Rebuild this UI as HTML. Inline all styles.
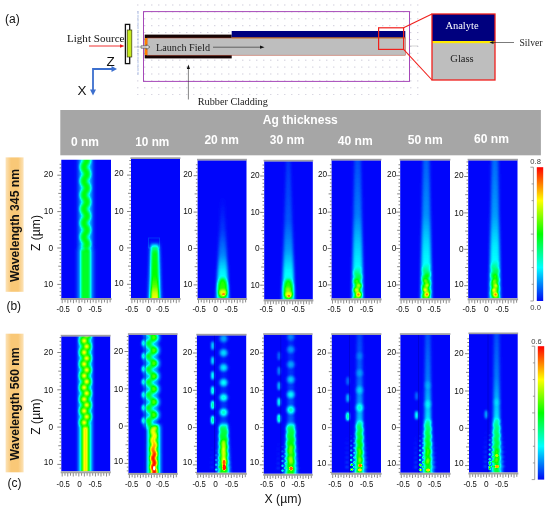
<!DOCTYPE html>
<html lang="en"><head><meta charset="utf-8"><title>Figure</title>
<style>
html,body{margin:0;padding:0;background:#fff;}
body{width:550px;height:510px;overflow:hidden;font-family:"Liberation Sans",Arial,sans-serif;}
svg{display:block;}
</style></head><body>
<svg width="550" height="510" viewBox="0 0 550 510">
<defs>
<filter id="jet" filterUnits="userSpaceOnUse" x="0" y="0" width="550" height="510" color-interpolation-filters="sRGB">
<feComponentTransfer>
<feFuncR type="table" tableValues="0 0 0 1 1"/>
<feFuncG type="table" tableValues="0.02 1 1 1 0"/>
<feFuncB type="table" tableValues="0.985 1 0 0 0"/>
</feComponentTransfer>
</filter>
<filter id="b05" filterUnits="userSpaceOnUse" x="0" y="0" width="550" height="510" color-interpolation-filters="sRGB"><feGaussianBlur stdDeviation="0.5"/></filter>
<filter id="b08" filterUnits="userSpaceOnUse" x="0" y="0" width="550" height="510" color-interpolation-filters="sRGB"><feGaussianBlur stdDeviation="0.8"/></filter>
<filter id="b1" filterUnits="userSpaceOnUse" x="0" y="0" width="550" height="510" color-interpolation-filters="sRGB"><feGaussianBlur stdDeviation="1.0"/></filter>
<filter id="b15" filterUnits="userSpaceOnUse" x="0" y="0" width="550" height="510" color-interpolation-filters="sRGB"><feGaussianBlur stdDeviation="1.5"/></filter>
<filter id="b2" filterUnits="userSpaceOnUse" x="0" y="0" width="550" height="510" color-interpolation-filters="sRGB"><feGaussianBlur stdDeviation="2.0"/></filter>
<filter id="b3" filterUnits="userSpaceOnUse" x="0" y="0" width="550" height="510" color-interpolation-filters="sRGB"><feGaussianBlur stdDeviation="3.0"/></filter>
<linearGradient id="cbar" x1="0" y1="0" x2="0" y2="1">
<stop offset="0" stop-color="#ff0000"/><stop offset="0.25" stop-color="#ffff00"/><stop offset="0.5" stop-color="#00ff00"/><stop offset="0.75" stop-color="#00ffff"/><stop offset="1" stop-color="#0008f5"/>
</linearGradient>
<linearGradient id="org" x1="0" y1="0" x2="1" y2="0">
<stop offset="0" stop-color="#fce3b8"/><stop offset="0.3" stop-color="#f9c877"/><stop offset="0.7" stop-color="#f9c877"/><stop offset="1" stop-color="#fce3b8"/>
</linearGradient>
<pattern id="dots" x="137.3" y="4.5" width="7" height="6.9" patternUnits="userSpaceOnUse">
<rect x="0" y="0" width="1" height="1" fill="#bcb8cc"/>
</pattern>
</defs>
<rect x="0" y="0" width="550" height="510" fill="#ffffff"/>
<g id="schematic">
<rect x="137" y="4" width="284" height="91" fill="url(#dots)"/>
<text x="5" y="23" font-size="12" font-family="Liberation Sans, Arial, sans-serif" fill="#111">(a)</text>
<line x1="138" y1="11" x2="138" y2="75" stroke="#8fa8dc" stroke-width="0.7" stroke-dasharray="3 0.8"/>
<rect x="125.4" y="24.4" width="4.3" height="39.2" fill="#fff" stroke="#111" stroke-width="1.3"/>
<rect x="127.2" y="30" width="4.6" height="27" fill="#c6ea1e" stroke="#3a3a10" stroke-width="0.7"/>
<line x1="89" y1="46" x2="121" y2="46" stroke="#ee1c1c" stroke-width="0.9"/>
<path d="M124.5 46 L120 44.3 L120 47.7 Z" fill="#ee1c1c"/>
<text x="67" y="41.7" font-size="11" font-family="Liberation Serif, Times New Roman, serif" fill="#111" textLength="57.5" lengthAdjust="spacingAndGlyphs">Light Source</text>
<path d="M93 92 L93 69 L113 69" fill="none" stroke="#3c6fce" stroke-width="1.8"/>
<path d="M117 69 L111.5 66 L111.5 72 Z" fill="#3c6fce"/>
<path d="M93 95.5 L90 89.5 L96 89.5 Z" fill="#3c6fce"/>
<text x="106.6" y="66.2" font-size="13.5" font-family="Liberation Sans, Arial, sans-serif" fill="#111">Z</text>
<text x="77.6" y="95.2" font-size="13.5" font-family="Liberation Sans, Arial, sans-serif" fill="#111">X</text>
<rect x="143.5" y="11.6" width="266" height="69.8" fill="none" stroke="#a648b8" stroke-width="1"/>
<rect x="144.7" y="34.6" width="87" height="23.8" fill="#160404"/>
<rect x="231.7" y="31" width="173.6" height="7" fill="#00007e"/>
<rect x="147" y="38" width="258.3" height="17.2" fill="#bebebe" stroke="#b5452f" stroke-width="0.5"/>
<rect x="231.7" y="37.4" width="173.6" height="0.9" fill="#e0861e"/>
<rect x="144.9" y="38" width="2.4" height="17.2" fill="#ff7f00"/>
<line x1="134" y1="47" x2="143" y2="47" stroke="#999" stroke-width="0.5"/>
<path d="M141 45.8 L146.5 45.8 L146.5 44.6 L150 47 L146.5 49.4 L146.5 48.2 L141 48.2 Z" fill="#ddd" stroke="#444" stroke-width="0.6"/>
<text x="156" y="50.6" font-size="11" font-family="Liberation Serif, Times New Roman, serif" fill="#1a1a1a" textLength="54" lengthAdjust="spacingAndGlyphs">Launch Field</text>
<line x1="213" y1="47.2" x2="261" y2="47.2" stroke="#222" stroke-width="0.6"/>
<path d="M264.5 47.2 L260 45.6 L260 48.8 Z" fill="#111"/>
<line x1="188.4" y1="68" x2="188.4" y2="99.5" stroke="#333" stroke-width="0.6"/>
<path d="M188.4 64.5 L186.8 69 L190 69 Z" fill="#111"/>
<text x="197.8" y="105.3" font-size="11" font-family="Liberation Serif, Times New Roman, serif" fill="#1a1a1a" textLength="70" lengthAdjust="spacingAndGlyphs">Rubber Cladding</text>
<rect x="378.6" y="27.8" width="25" height="21.6" fill="none" stroke="#f0201c" stroke-width="1.2"/>
<line x1="403.6" y1="27.8" x2="432" y2="14" stroke="#f0201c" stroke-width="1.1"/>
<line x1="403.6" y1="49.4" x2="432" y2="80" stroke="#f0201c" stroke-width="1.1"/>
<line x1="409.6" y1="46" x2="418" y2="46" stroke="#aaa" stroke-width="0.5"/>
<rect x="432" y="14" width="63" height="27.5" fill="#00007e"/>
<rect x="432" y="43" width="63" height="37" fill="#bebebe"/>
<rect x="432" y="41" width="63" height="2.2" fill="#ffea00"/>
<rect x="432" y="14" width="63" height="66" fill="none" stroke="#f0201c" stroke-width="1.3"/>
<text x="462" y="29" font-size="10.5" font-family="Liberation Serif, Times New Roman, serif" fill="#fff" text-anchor="middle">Analyte</text>
<text x="462" y="62" font-size="10.5" font-family="Liberation Serif, Times New Roman, serif" fill="#1a1a1a" text-anchor="middle">Glass</text>
<line x1="492" y1="42.5" x2="514" y2="42.5" stroke="#222" stroke-width="0.6"/>
<path d="M489.5 42.5 L493.5 41 L493.5 44 Z" fill="#111"/>
<text x="519.5" y="46" font-size="10.5" font-family="Liberation Serif, Times New Roman, serif" fill="#1a1a1a" textLength="23" lengthAdjust="spacingAndGlyphs">Silver</text>
</g>
<rect x="60.3" y="110" width="480.6" height="45.3" fill="#a6a6a6"/>
<text x="262.8" y="123.6" font-size="12" font-weight="bold" font-family="Liberation Sans, Arial, sans-serif" fill="#fff" textLength="75" lengthAdjust="spacingAndGlyphs">Ag thickness</text>
<text x="71" y="145.8" font-size="12" font-weight="bold" font-family="Liberation Sans, Arial, sans-serif" fill="#fff" textLength="28" lengthAdjust="spacingAndGlyphs">0 nm</text>
<text x="135.3" y="146" font-size="12" font-weight="bold" font-family="Liberation Sans, Arial, sans-serif" fill="#fff" textLength="34" lengthAdjust="spacingAndGlyphs">10 nm</text>
<text x="204.4" y="144.3" font-size="12" font-weight="bold" font-family="Liberation Sans, Arial, sans-serif" fill="#fff" textLength="34.6" lengthAdjust="spacingAndGlyphs">20 nm</text>
<text x="269.8" y="144.3" font-size="12" font-weight="bold" font-family="Liberation Sans, Arial, sans-serif" fill="#fff" textLength="34.6" lengthAdjust="spacingAndGlyphs">30 nm</text>
<text x="337.7" y="145.2" font-size="12" font-weight="bold" font-family="Liberation Sans, Arial, sans-serif" fill="#fff" textLength="35" lengthAdjust="spacingAndGlyphs">40 nm</text>
<text x="407.7" y="144.2" font-size="12" font-weight="bold" font-family="Liberation Sans, Arial, sans-serif" fill="#fff" textLength="35" lengthAdjust="spacingAndGlyphs">50 nm</text>
<text x="474" y="142.9" font-size="12" font-weight="bold" font-family="Liberation Sans, Arial, sans-serif" fill="#fff" textLength="35" lengthAdjust="spacingAndGlyphs">60 nm</text>
<rect x="5.6" y="157.4" width="18" height="134.4" fill="url(#org)"/>
<rect x="5.6" y="333.7" width="18" height="138.6" fill="url(#org)"/>
<text transform="translate(19 282) rotate(-90)" font-size="12" font-weight="bold" font-family="Liberation Sans, Arial, sans-serif" fill="#111" textLength="113" lengthAdjust="spacingAndGlyphs">Wavelength 345 nm</text>
<text transform="translate(19 460.4) rotate(-90)" font-size="12" font-weight="bold" font-family="Liberation Sans, Arial, sans-serif" fill="#111" textLength="113" lengthAdjust="spacingAndGlyphs">Wavelength 560 nm</text>
<text transform="translate(39.5 251) rotate(-90)" font-size="12" font-family="Liberation Sans, Arial, sans-serif" fill="#111" textLength="36" lengthAdjust="spacingAndGlyphs">Z (µm)</text>
<text transform="translate(39.5 434.8) rotate(-90)" font-size="12" font-family="Liberation Sans, Arial, sans-serif" fill="#111" textLength="36.4" lengthAdjust="spacingAndGlyphs">Z (µm)</text>
<text x="6.4" y="310" font-size="12" font-family="Liberation Sans, Arial, sans-serif" fill="#111">(b)</text>
<text x="7.6" y="487" font-size="12" font-family="Liberation Sans, Arial, sans-serif" fill="#111">(c)</text>
<text x="264.5" y="502.7" font-size="12" font-family="Liberation Sans, Arial, sans-serif" fill="#111" textLength="37" lengthAdjust="spacingAndGlyphs">X (µm)</text>
<clipPath id="ca0"><rect x="61.3" y="159.7" width="49.70" height="138.30"/></clipPath>
<g clip-path="url(#ca0)"><g filter="url(#jet)">
<rect x="55.3" y="153.7" width="61.70" height="150.30" fill="#000"/>
<rect x="79.20" y="155.00" width="12.80" height="92.50" fill="#fff" fill-opacity="0.21" filter="url(#b2)"/>
<rect x="78.40" y="247.50" width="14.40" height="54.50" fill="#fff" fill-opacity="0.2" filter="url(#b2)"/>
<polyline points="84.22,155.00 84.98,156.00 85.82,157.00 86.58,158.00 87.11,159.00 87.30,160.00 87.11,161.00 86.58,162.00 85.82,163.00 84.98,164.00 84.22,165.00 83.69,166.00 83.50,167.00 83.69,168.00 84.22,169.00 84.98,170.00 85.82,171.00 86.58,172.00 87.11,173.00 87.30,174.00 87.11,175.00 86.58,176.00 85.82,177.00 84.98,178.00 84.22,179.00 83.69,180.00 83.50,181.00 83.69,182.00 84.22,183.00 84.98,184.00 85.82,185.00 86.58,186.00 87.11,187.00 87.30,188.00 87.11,189.00 86.58,190.00 85.82,191.00 84.98,192.00 84.22,193.00 83.69,194.00 83.50,195.00 83.69,196.00 84.22,197.00 84.98,198.00 85.82,199.00 86.58,200.00 87.11,201.00 87.30,202.00 87.11,203.00 86.58,204.00 85.82,205.00 84.98,206.00 84.22,207.00 83.69,208.00 83.50,209.00 83.69,210.00 84.22,211.00 84.98,212.00 85.82,213.00 86.58,214.00 87.11,215.00 87.30,216.00 87.11,217.00 86.58,218.00 85.82,219.00 84.98,220.00 84.22,221.00 83.69,222.00 83.50,223.00 83.69,224.00 84.22,225.00 84.98,226.00 85.82,227.00 86.58,228.00 87.11,229.00 87.30,230.00 87.11,231.00 86.58,232.00 85.82,233.00 84.98,234.00 84.22,235.00 83.69,236.00 83.50,237.00 83.69,238.00 84.22,239.00 84.98,240.00 85.82,241.00 86.58,242.00 87.11,243.00 87.30,244.00 87.11,245.00 86.58,246.00 85.82,247.00 84.98,248.00 84.22,249.00" fill="none" stroke="#fff" stroke-opacity="0.36" stroke-width="6.6" stroke-linejoin="round" filter="url(#b15)"/>
<rect x="81.00" y="249.50" width="9.20" height="54.50" fill="#fff" fill-opacity="0.33" filter="url(#b1)"/>
</g></g>
<rect x="60.699999999999996" y="298.0" width="50.90" height="2.0" fill="#a2a2a2"/>
<path d="M62.20 299.80v3.4M65.02 299.80v2.6M67.84 299.80v3.4M70.65 299.80v2.6M73.47 299.80v3.4M76.29 299.80v2.6M79.11 299.80v3.4M81.92 299.80v2.6M84.74 299.80v3.4M87.56 299.80v2.6M90.38 299.80v3.4M93.19 299.80v2.6M96.01 299.80v3.4M98.83 299.80v2.6M101.65 299.80v3.4M104.46 299.80v2.6M107.28 299.80v3.4M110.10 299.80v2.6" stroke="#6e6e6e" stroke-width="0.8" fill="none"/>
<path d="M61.30 295.32h-1.7M61.30 291.68h-1.7M61.30 288.04h-1.7M61.30 284.40h-4.0M61.30 280.76h-1.7M61.30 277.12h-1.7M61.30 273.48h-1.7M61.30 269.84h-1.7M61.30 266.20h-3.0M61.30 262.56h-1.7M61.30 258.92h-1.7M61.30 255.28h-1.7M61.30 251.64h-1.7M61.30 248.00h-4.0M61.30 244.36h-1.7M61.30 240.72h-1.7M61.30 237.08h-1.7M61.30 233.44h-1.7M61.30 229.80h-3.0M61.30 226.16h-1.7M61.30 222.52h-1.7M61.30 218.88h-1.7M61.30 215.24h-1.7M61.30 211.60h-4.0M61.30 207.96h-1.7M61.30 204.32h-1.7M61.30 200.68h-1.7M61.30 197.04h-1.7M61.30 193.40h-3.0M61.30 189.76h-1.7M61.30 186.12h-1.7M61.30 182.48h-1.7M61.30 178.84h-1.7M61.30 175.20h-4.0M61.30 171.56h-1.7M61.30 167.92h-1.7M61.30 164.28h-1.7" stroke="#5a5a5a" stroke-width="0.75" fill="none"/>
<text x="53" y="177.4" font-size="8.3" font-family="Liberation Sans, Arial, sans-serif" fill="#111" text-anchor="end">20</text>
<text x="53" y="214.2" font-size="8.3" font-family="Liberation Sans, Arial, sans-serif" fill="#111" text-anchor="end">10</text>
<text x="53" y="250.6" font-size="8.3" font-family="Liberation Sans, Arial, sans-serif" fill="#111" text-anchor="end">0</text>
<text x="53" y="286.6" font-size="8.3" font-family="Liberation Sans, Arial, sans-serif" fill="#111" text-anchor="end">10</text>
<text x="56.6" y="312.0" font-size="8.3" font-family="Liberation Sans, Arial, sans-serif" fill="#111" textLength="13.3" lengthAdjust="spacingAndGlyphs">-0.5</text>
<text x="79.6" y="312.0" font-size="8.3" font-family="Liberation Sans, Arial, sans-serif" fill="#111" text-anchor="middle">0</text>
<text x="88.5" y="312.0" font-size="8.3" font-family="Liberation Sans, Arial, sans-serif" fill="#111" textLength="13.3" lengthAdjust="spacingAndGlyphs">-0.5</text>
<clipPath id="ca1"><rect x="131.0" y="158.8" width="49.00" height="139.20"/></clipPath>
<g clip-path="url(#ca1)"><g filter="url(#jet)">
<rect x="125.0" y="152.8" width="61.00" height="151.20" fill="#000"/>
<defs><linearGradient id="g12h" x1="0" y1="0" x2="0" y2="1"><stop offset="0.000" stop-color="#fff" stop-opacity="0"/><stop offset="0.115" stop-color="#fff" stop-opacity="0.16"/><stop offset="1.000" stop-color="#fff" stop-opacity="0.19"/></linearGradient>
</defs><path d="M149.80 241.00 L159.80 241.00 L161.55 302.00 L148.05 302.00 Z" fill="url(#g12h)" filter="url(#b15)"/>
<defs><linearGradient id="g12" x1="0" y1="0" x2="0" y2="1"><stop offset="0.000" stop-color="#fff" stop-opacity="0.0"/><stop offset="0.068" stop-color="#fff" stop-opacity="0.22"/><stop offset="0.169" stop-color="#fff" stop-opacity="0.38"/><stop offset="0.559" stop-color="#fff" stop-opacity="0.4"/><stop offset="0.729" stop-color="#fff" stop-opacity="0.5"/><stop offset="0.847" stop-color="#fff" stop-opacity="0.64"/><stop offset="1.000" stop-color="#fff" stop-opacity="0.7"/></linearGradient>
</defs><path d="M151.50 243.00 L158.10 243.00 L159.10 302.00 L150.50 302.00 Z" fill="url(#g12)" filter="url(#b08)"/>
<rect x="148.5" y="238" width="11" height="10" fill="none" stroke="#fff" stroke-opacity="0.05" stroke-width="1" filter="url(#b05)"/>
</g></g>
<rect x="130.4" y="157.3" width="50.00" height="1.7" fill="#9e9ea3"/>
<rect x="130.4" y="298.0" width="50.20" height="2.0" fill="#a2a2a2"/>
<path d="M131.90 299.80v3.4M134.68 299.80v2.6M137.45 299.80v3.4M140.23 299.80v2.6M143.01 299.80v3.4M145.78 299.80v2.6M148.56 299.80v3.4M151.34 299.80v2.6M154.11 299.80v3.4M156.89 299.80v2.6M159.66 299.80v3.4M162.44 299.80v2.6M165.22 299.80v3.4M167.99 299.80v2.6M170.77 299.80v3.4M173.55 299.80v2.6M176.32 299.80v3.4M179.10 299.80v2.6" stroke="#6e6e6e" stroke-width="0.8" fill="none"/>
<path d="M131.00 295.22h-1.7M131.00 291.58h-1.7M131.00 287.94h-1.7M131.00 284.30h-4.0M131.00 280.66h-1.7M131.00 277.02h-1.7M131.00 273.38h-1.7M131.00 269.74h-1.7M131.00 266.10h-3.0M131.00 262.46h-1.7M131.00 258.82h-1.7M131.00 255.18h-1.7M131.00 251.54h-1.7M131.00 247.90h-4.0M131.00 244.26h-1.7M131.00 240.62h-1.7M131.00 236.98h-1.7M131.00 233.34h-1.7M131.00 229.70h-3.0M131.00 226.06h-1.7M131.00 222.42h-1.7M131.00 218.78h-1.7M131.00 215.14h-1.7M131.00 211.50h-4.0M131.00 207.86h-1.7M131.00 204.22h-1.7M131.00 200.58h-1.7M131.00 196.94h-1.7M131.00 193.30h-3.0M131.00 189.66h-1.7M131.00 186.02h-1.7M131.00 182.38h-1.7M131.00 178.74h-1.7M131.00 175.10h-4.0M131.00 171.46h-1.7M131.00 167.82h-1.7M131.00 164.18h-1.7M131.00 160.54h-1.7" stroke="#5a5a5a" stroke-width="0.75" fill="none"/>
<text x="123.6" y="176.1" font-size="8.3" font-family="Liberation Sans, Arial, sans-serif" fill="#111" text-anchor="end">20</text>
<text x="123.6" y="213.8" font-size="8.3" font-family="Liberation Sans, Arial, sans-serif" fill="#111" text-anchor="end">10</text>
<text x="123.6" y="250.5" font-size="8.3" font-family="Liberation Sans, Arial, sans-serif" fill="#111" text-anchor="end">0</text>
<text x="123.6" y="286.0" font-size="8.3" font-family="Liberation Sans, Arial, sans-serif" fill="#111" text-anchor="end">10</text>
<text x="124.9" y="312.0" font-size="8.3" font-family="Liberation Sans, Arial, sans-serif" fill="#111" textLength="13.3" lengthAdjust="spacingAndGlyphs">-0.5</text>
<text x="148.6" y="312.0" font-size="8.3" font-family="Liberation Sans, Arial, sans-serif" fill="#111" text-anchor="middle">0</text>
<text x="155.8" y="312.0" font-size="8.3" font-family="Liberation Sans, Arial, sans-serif" fill="#111" textLength="13.3" lengthAdjust="spacingAndGlyphs">-0.5</text>
<clipPath id="ca2"><rect x="197.6" y="160.3" width="48.90" height="137.70"/></clipPath>
<g clip-path="url(#ca2)"><g filter="url(#jet)">
<rect x="191.6" y="154.3" width="60.90" height="149.70" fill="#000"/>
<defs><linearGradient id="g13t" x1="0" y1="0" x2="0" y2="1"><stop offset="0.000" stop-color="#fff" stop-opacity="0"/><stop offset="0.333" stop-color="#fff" stop-opacity="0.05"/><stop offset="0.571" stop-color="#fff" stop-opacity="0.13"/><stop offset="0.714" stop-color="#fff" stop-opacity="0.23"/><stop offset="0.857" stop-color="#fff" stop-opacity="0.28"/><stop offset="1.000" stop-color="#fff" stop-opacity="0.28"/></linearGradient>
</defs><path d="M221.10 195.00 L224.10 195.00 L228.85 300.00 L216.35 300.00 Z" fill="url(#g13t)" filter="url(#b15)"/>
<ellipse cx="222.60" cy="289.00" rx="4.8" ry="11" fill="#fff" fill-opacity="0.36" filter="url(#b15)"/>
<ellipse cx="222.90" cy="292.80" rx="4.0" ry="3.4" fill="#fff" fill-opacity="0.42" filter="url(#b1)"/>
<ellipse cx="223.60" cy="294.30" rx="1.6" ry="1.3" fill="#fff" fill-opacity="0.55" filter="url(#b05)"/>
</g></g>
<rect x="197.0" y="158.8" width="49.90" height="1.7" fill="#9e9ea3"/>
<rect x="197.0" y="298.0" width="50.10" height="2.0" fill="#a2a2a2"/>
<path d="M198.50 299.80v3.4M201.27 299.80v2.6M204.04 299.80v3.4M206.81 299.80v2.6M209.58 299.80v3.4M212.35 299.80v2.6M215.12 299.80v3.4M217.89 299.80v2.6M220.66 299.80v3.4M223.44 299.80v2.6M226.21 299.80v3.4M228.98 299.80v2.6M231.75 299.80v3.4M234.52 299.80v2.6M237.29 299.80v3.4M240.06 299.80v2.6M242.83 299.80v3.4M245.60 299.80v2.6" stroke="#6e6e6e" stroke-width="0.8" fill="none"/>
<path d="M197.60 295.82h-1.7M197.60 292.18h-1.7M197.60 288.54h-1.7M197.60 284.90h-4.0M197.60 281.26h-1.7M197.60 277.62h-1.7M197.60 273.98h-1.7M197.60 270.34h-1.7M197.60 266.70h-3.0M197.60 263.06h-1.7M197.60 259.42h-1.7M197.60 255.78h-1.7M197.60 252.14h-1.7M197.60 248.50h-4.0M197.60 244.86h-1.7M197.60 241.22h-1.7M197.60 237.58h-1.7M197.60 233.94h-1.7M197.60 230.30h-3.0M197.60 226.66h-1.7M197.60 223.02h-1.7M197.60 219.38h-1.7M197.60 215.74h-1.7M197.60 212.10h-4.0M197.60 208.46h-1.7M197.60 204.82h-1.7M197.60 201.18h-1.7M197.60 197.54h-1.7M197.60 193.90h-3.0M197.60 190.26h-1.7M197.60 186.62h-1.7M197.60 182.98h-1.7M197.60 179.34h-1.7M197.60 175.70h-4.0M197.60 172.06h-1.7M197.60 168.42h-1.7M197.60 164.78h-1.7" stroke="#5a5a5a" stroke-width="0.75" fill="none"/>
<text x="192.4" y="176.7" font-size="8.3" font-family="Liberation Sans, Arial, sans-serif" fill="#111" text-anchor="end">20</text>
<text x="192.4" y="214.4" font-size="8.3" font-family="Liberation Sans, Arial, sans-serif" fill="#111" text-anchor="end">10</text>
<text x="192.4" y="251.1" font-size="8.3" font-family="Liberation Sans, Arial, sans-serif" fill="#111" text-anchor="end">0</text>
<text x="192.4" y="286.6" font-size="8.3" font-family="Liberation Sans, Arial, sans-serif" fill="#111" text-anchor="end">10</text>
<text x="192.5" y="312.0" font-size="8.3" font-family="Liberation Sans, Arial, sans-serif" fill="#111" textLength="13.3" lengthAdjust="spacingAndGlyphs">-0.5</text>
<text x="215.5" y="312.0" font-size="8.3" font-family="Liberation Sans, Arial, sans-serif" fill="#111" text-anchor="middle">0</text>
<text x="224.6" y="312.0" font-size="8.3" font-family="Liberation Sans, Arial, sans-serif" fill="#111" textLength="13.3" lengthAdjust="spacingAndGlyphs">-0.5</text>
<clipPath id="ca3"><rect x="264.2" y="161.3" width="48.60" height="138.10"/></clipPath>
<g clip-path="url(#ca3)"><g filter="url(#jet)">
<rect x="258.2" y="155.3" width="60.60" height="150.10" fill="#000"/>
<defs><linearGradient id="g14t" x1="0" y1="0" x2="0" y2="1"><stop offset="0.000" stop-color="#fff" stop-opacity="0.05"/><stop offset="0.431" stop-color="#fff" stop-opacity="0.08"/><stop offset="0.639" stop-color="#fff" stop-opacity="0.15"/><stop offset="0.778" stop-color="#fff" stop-opacity="0.24"/><stop offset="0.882" stop-color="#fff" stop-opacity="0.28"/><stop offset="1.000" stop-color="#fff" stop-opacity="0.28"/></linearGradient>
</defs><path d="M286.30 158.00 L290.30 158.00 L294.55 302.00 L282.05 302.00 Z" fill="url(#g14t)" filter="url(#b15)"/>
<ellipse cx="288.30" cy="290.00" rx="4.6" ry="11" fill="#fff" fill-opacity="0.36" filter="url(#b15)"/>
<ellipse cx="288.00" cy="289.50" rx="2.6" ry="2.2" fill="#fff" fill-opacity="0.25" filter="url(#b1)"/>
<ellipse cx="288.60" cy="294.40" rx="4.0" ry="3.0" fill="#fff" fill-opacity="0.45" filter="url(#b1)"/>
<ellipse cx="288.90" cy="296.00" rx="1.6" ry="1.2" fill="#fff" fill-opacity="0.55" filter="url(#b05)"/>
</g></g>
<rect x="263.59999999999997" y="159.8" width="49.60" height="1.7" fill="#9e9ea3"/>
<rect x="263.59999999999997" y="299.4" width="49.80" height="2.0" fill="#a2a2a2"/>
<path d="M265.10 301.20v3.4M267.85 301.20v2.6M270.61 301.20v3.4M273.36 301.20v2.6M276.11 301.20v3.4M278.86 301.20v2.6M281.62 301.20v3.4M284.37 301.20v2.6M287.12 301.20v3.4M289.88 301.20v2.6M292.63 301.20v3.4M295.38 301.20v2.6M298.14 301.20v3.4M300.89 301.20v2.6M303.64 301.20v3.4M306.39 301.20v2.6M309.15 301.20v3.4M311.90 301.20v2.6" stroke="#6e6e6e" stroke-width="0.8" fill="none"/>
<path d="M264.20 296.12h-1.7M264.20 292.48h-1.7M264.20 288.84h-1.7M264.20 285.20h-4.0M264.20 281.56h-1.7M264.20 277.92h-1.7M264.20 274.28h-1.7M264.20 270.64h-1.7M264.20 267.00h-3.0M264.20 263.36h-1.7M264.20 259.72h-1.7M264.20 256.08h-1.7M264.20 252.44h-1.7M264.20 248.80h-4.0M264.20 245.16h-1.7M264.20 241.52h-1.7M264.20 237.88h-1.7M264.20 234.24h-1.7M264.20 230.60h-3.0M264.20 226.96h-1.7M264.20 223.32h-1.7M264.20 219.68h-1.7M264.20 216.04h-1.7M264.20 212.40h-4.0M264.20 208.76h-1.7M264.20 205.12h-1.7M264.20 201.48h-1.7M264.20 197.84h-1.7M264.20 194.20h-3.0M264.20 190.56h-1.7M264.20 186.92h-1.7M264.20 183.28h-1.7M264.20 179.64h-1.7M264.20 176.00h-4.0M264.20 172.36h-1.7M264.20 168.72h-1.7M264.20 165.08h-1.7" stroke="#5a5a5a" stroke-width="0.75" fill="none"/>
<text x="259.7" y="178.3" font-size="8.3" font-family="Liberation Sans, Arial, sans-serif" fill="#111" text-anchor="end">20</text>
<text x="259.7" y="215.3" font-size="8.3" font-family="Liberation Sans, Arial, sans-serif" fill="#111" text-anchor="end">10</text>
<text x="259.7" y="251.4" font-size="8.3" font-family="Liberation Sans, Arial, sans-serif" fill="#111" text-anchor="end">0</text>
<text x="259.7" y="287.5" font-size="8.3" font-family="Liberation Sans, Arial, sans-serif" fill="#111" text-anchor="end">10</text>
<text x="259.4" y="312.0" font-size="8.3" font-family="Liberation Sans, Arial, sans-serif" fill="#111" textLength="13.3" lengthAdjust="spacingAndGlyphs">-0.5</text>
<text x="283" y="312.0" font-size="8.3" font-family="Liberation Sans, Arial, sans-serif" fill="#111" text-anchor="middle">0</text>
<text x="291.4" y="312.0" font-size="8.3" font-family="Liberation Sans, Arial, sans-serif" fill="#111" textLength="13.3" lengthAdjust="spacingAndGlyphs">-0.5</text>
<clipPath id="ca4"><rect x="331.6" y="160.3" width="49.40" height="138.10"/></clipPath>
<g clip-path="url(#ca4)"><g filter="url(#jet)">
<rect x="325.6" y="154.3" width="61.40" height="150.10" fill="#000"/>
<defs><linearGradient id="g15t" x1="0" y1="0" x2="0" y2="1"><stop offset="0.000" stop-color="#fff" stop-opacity="0.07"/><stop offset="0.402" stop-color="#fff" stop-opacity="0.12000000000000001"/><stop offset="0.609" stop-color="#fff" stop-opacity="0.2"/><stop offset="0.796" stop-color="#fff" stop-opacity="0.26"/><stop offset="1.000" stop-color="#fff" stop-opacity="0.27"/></linearGradient>
</defs><path d="M354.35 157.00 L360.85 157.00 L363.10 301.40 L352.10 301.40 Z" fill="url(#g15t)" filter="url(#b15)"/>
<defs><linearGradient id="g15c" x1="0" y1="0" x2="0" y2="1"><stop offset="0.000" stop-color="#fff" stop-opacity="0"/><stop offset="0.250" stop-color="#fff" stop-opacity="0.2"/><stop offset="0.550" stop-color="#fff" stop-opacity="0.34"/><stop offset="1.000" stop-color="#fff" stop-opacity="0.4"/></linearGradient>
</defs><polyline points="358.04,266.00 358.86,267.00 359.09,268.00 358.62,269.00 357.67,270.00 356.69,271.00 356.14,272.00 356.27,273.00 357.02,274.00 358.04,275.00 358.86,276.00 359.09,277.00 358.62,278.00 357.67,279.00 356.69,280.00 356.14,281.00 356.27,282.00 357.02,283.00 358.04,284.00 358.86,285.00 359.09,286.00 358.62,287.00 357.67,288.00 356.69,289.00 356.14,290.00 356.27,291.00 357.02,292.00 358.04,293.00 358.86,294.00 359.09,295.00 358.62,296.00 357.67,297.00 356.69,298.00 356.14,299.00 356.27,300.00 357.02,301.00 358.04,302.00" fill="none" stroke="url(#g15c)" stroke-width="5.6" filter="url(#b1)"/>
<ellipse cx="358.40" cy="294.50" rx="2.2" ry="1.9" fill="#fff" fill-opacity="0.9" filter="url(#b08)"/>
<ellipse cx="356.80" cy="290.00" rx="2.2" ry="1.9" fill="#fff" fill-opacity="0.5" filter="url(#b08)"/>
<ellipse cx="358.60" cy="285.50" rx="2.2" ry="1.9" fill="#fff" fill-opacity="0.4" filter="url(#b08)"/>
<ellipse cx="356.80" cy="281.00" rx="2.2" ry="1.9" fill="#fff" fill-opacity="0.2" filter="url(#b08)"/>
</g></g>
<rect x="331.0" y="158.8" width="50.40" height="1.7" fill="#9e9ea3"/>
<rect x="331.0" y="298.4" width="50.60" height="2.0" fill="#a2a2a2"/>
<path d="M332.50 300.20v3.4M335.30 300.20v2.6M338.10 300.20v3.4M340.90 300.20v2.6M343.70 300.20v3.4M346.50 300.20v2.6M349.30 300.20v3.4M352.10 300.20v2.6M354.90 300.20v3.4M357.70 300.20v2.6M360.50 300.20v3.4M363.30 300.20v2.6M366.10 300.20v3.4M368.90 300.20v2.6M371.70 300.20v3.4M374.50 300.20v2.6M377.30 300.20v3.4M380.10 300.20v2.6" stroke="#6e6e6e" stroke-width="0.8" fill="none"/>
<path d="M331.60 295.82h-1.7M331.60 292.18h-1.7M331.60 288.54h-1.7M331.60 284.90h-4.0M331.60 281.26h-1.7M331.60 277.62h-1.7M331.60 273.98h-1.7M331.60 270.34h-1.7M331.60 266.70h-3.0M331.60 263.06h-1.7M331.60 259.42h-1.7M331.60 255.78h-1.7M331.60 252.14h-1.7M331.60 248.50h-4.0M331.60 244.86h-1.7M331.60 241.22h-1.7M331.60 237.58h-1.7M331.60 233.94h-1.7M331.60 230.30h-3.0M331.60 226.66h-1.7M331.60 223.02h-1.7M331.60 219.38h-1.7M331.60 215.74h-1.7M331.60 212.10h-4.0M331.60 208.46h-1.7M331.60 204.82h-1.7M331.60 201.18h-1.7M331.60 197.54h-1.7M331.60 193.90h-3.0M331.60 190.26h-1.7M331.60 186.62h-1.7M331.60 182.98h-1.7M331.60 179.34h-1.7M331.60 175.70h-4.0M331.60 172.06h-1.7M331.60 168.42h-1.7M331.60 164.78h-1.7" stroke="#5a5a5a" stroke-width="0.75" fill="none"/>
<text x="327.2" y="176.7" font-size="8.3" font-family="Liberation Sans, Arial, sans-serif" fill="#111" text-anchor="end">20</text>
<text x="327.2" y="214.4" font-size="8.3" font-family="Liberation Sans, Arial, sans-serif" fill="#111" text-anchor="end">10</text>
<text x="327.2" y="251.1" font-size="8.3" font-family="Liberation Sans, Arial, sans-serif" fill="#111" text-anchor="end">0</text>
<text x="327.2" y="286.6" font-size="8.3" font-family="Liberation Sans, Arial, sans-serif" fill="#111" text-anchor="end">10</text>
<text x="327.6" y="312.0" font-size="8.3" font-family="Liberation Sans, Arial, sans-serif" fill="#111" textLength="13.3" lengthAdjust="spacingAndGlyphs">-0.5</text>
<text x="351" y="312.0" font-size="8.3" font-family="Liberation Sans, Arial, sans-serif" fill="#111" text-anchor="middle">0</text>
<text x="360" y="312.0" font-size="8.3" font-family="Liberation Sans, Arial, sans-serif" fill="#111" textLength="13.3" lengthAdjust="spacingAndGlyphs">-0.5</text>
<clipPath id="ca5"><rect x="400.2" y="160.3" width="49.80" height="138.10"/></clipPath>
<g clip-path="url(#ca5)"><g filter="url(#jet)">
<rect x="394.2" y="154.3" width="61.80" height="150.10" fill="#000"/>
<defs><linearGradient id="g16t" x1="0" y1="0" x2="0" y2="1"><stop offset="0.000" stop-color="#fff" stop-opacity="0.09"/><stop offset="0.402" stop-color="#fff" stop-opacity="0.14"/><stop offset="0.609" stop-color="#fff" stop-opacity="0.22"/><stop offset="0.776" stop-color="#fff" stop-opacity="0.26"/><stop offset="1.000" stop-color="#fff" stop-opacity="0.27"/></linearGradient>
</defs><path d="M422.95 157.00 L429.45 157.00 L431.70 301.40 L420.70 301.40 Z" fill="url(#g16t)" filter="url(#b15)"/>
<defs><linearGradient id="g16c" x1="0" y1="0" x2="0" y2="1"><stop offset="0.000" stop-color="#fff" stop-opacity="0"/><stop offset="0.250" stop-color="#fff" stop-opacity="0.2"/><stop offset="0.550" stop-color="#fff" stop-opacity="0.34"/><stop offset="1.000" stop-color="#fff" stop-opacity="0.4"/></linearGradient>
</defs><polyline points="426.64,263.00 427.46,264.00 427.69,265.00 427.22,266.00 426.27,267.00 425.29,268.00 424.74,269.00 424.87,270.00 425.62,271.00 426.64,272.00 427.46,273.00 427.69,274.00 427.22,275.00 426.27,276.00 425.29,277.00 424.74,278.00 424.87,279.00 425.62,280.00 426.64,281.00 427.46,282.00 427.69,283.00 427.22,284.00 426.27,285.00 425.29,286.00 424.74,287.00 424.87,288.00 425.62,289.00 426.64,290.00 427.46,291.00 427.69,292.00 427.22,293.00 426.27,294.00 425.29,295.00 424.74,296.00 424.87,297.00 425.62,298.00 426.64,299.00 427.46,300.00 427.69,301.00 427.22,302.00" fill="none" stroke="url(#g16c)" stroke-width="5.6" filter="url(#b1)"/>
<ellipse cx="427.00" cy="294.50" rx="2.2" ry="1.9" fill="#fff" fill-opacity="0.9" filter="url(#b08)"/>
<ellipse cx="425.20" cy="290.00" rx="2.2" ry="1.9" fill="#fff" fill-opacity="0.6" filter="url(#b08)"/>
<ellipse cx="427.20" cy="285.50" rx="2.2" ry="1.9" fill="#fff" fill-opacity="0.45" filter="url(#b08)"/>
<ellipse cx="425.40" cy="281.00" rx="2.2" ry="1.9" fill="#fff" fill-opacity="0.3" filter="url(#b08)"/>
<ellipse cx="427.00" cy="276.00" rx="2.2" ry="1.9" fill="#fff" fill-opacity="0.15" filter="url(#b08)"/>
</g></g>
<rect x="399.59999999999997" y="158.8" width="50.80" height="1.7" fill="#9e9ea3"/>
<rect x="399.59999999999997" y="298.4" width="51.00" height="2.0" fill="#a2a2a2"/>
<path d="M401.10 300.20v3.4M403.92 300.20v2.6M406.75 300.20v3.4M409.57 300.20v2.6M412.39 300.20v3.4M415.22 300.20v2.6M418.04 300.20v3.4M420.86 300.20v2.6M423.69 300.20v3.4M426.51 300.20v2.6M429.34 300.20v3.4M432.16 300.20v2.6M434.98 300.20v3.4M437.81 300.20v2.6M440.63 300.20v3.4M443.45 300.20v2.6M446.28 300.20v3.4M449.10 300.20v2.6" stroke="#6e6e6e" stroke-width="0.8" fill="none"/>
<path d="M400.20 295.82h-1.7M400.20 292.18h-1.7M400.20 288.54h-1.7M400.20 284.90h-4.0M400.20 281.26h-1.7M400.20 277.62h-1.7M400.20 273.98h-1.7M400.20 270.34h-1.7M400.20 266.70h-3.0M400.20 263.06h-1.7M400.20 259.42h-1.7M400.20 255.78h-1.7M400.20 252.14h-1.7M400.20 248.50h-4.0M400.20 244.86h-1.7M400.20 241.22h-1.7M400.20 237.58h-1.7M400.20 233.94h-1.7M400.20 230.30h-3.0M400.20 226.66h-1.7M400.20 223.02h-1.7M400.20 219.38h-1.7M400.20 215.74h-1.7M400.20 212.10h-4.0M400.20 208.46h-1.7M400.20 204.82h-1.7M400.20 201.18h-1.7M400.20 197.54h-1.7M400.20 193.90h-3.0M400.20 190.26h-1.7M400.20 186.62h-1.7M400.20 182.98h-1.7M400.20 179.34h-1.7M400.20 175.70h-4.0M400.20 172.06h-1.7M400.20 168.42h-1.7M400.20 164.78h-1.7" stroke="#5a5a5a" stroke-width="0.75" fill="none"/>
<text x="396.3" y="176.7" font-size="8.3" font-family="Liberation Sans, Arial, sans-serif" fill="#111" text-anchor="end">20</text>
<text x="396.3" y="214.4" font-size="8.3" font-family="Liberation Sans, Arial, sans-serif" fill="#111" text-anchor="end">10</text>
<text x="396.3" y="251.1" font-size="8.3" font-family="Liberation Sans, Arial, sans-serif" fill="#111" text-anchor="end">0</text>
<text x="396.3" y="286.6" font-size="8.3" font-family="Liberation Sans, Arial, sans-serif" fill="#111" text-anchor="end">10</text>
<text x="395.7" y="312.0" font-size="8.3" font-family="Liberation Sans, Arial, sans-serif" fill="#111" textLength="13.3" lengthAdjust="spacingAndGlyphs">-0.5</text>
<text x="419.2" y="312.0" font-size="8.3" font-family="Liberation Sans, Arial, sans-serif" fill="#111" text-anchor="middle">0</text>
<text x="427.4" y="312.0" font-size="8.3" font-family="Liberation Sans, Arial, sans-serif" fill="#111" textLength="13.3" lengthAdjust="spacingAndGlyphs">-0.5</text>
<clipPath id="ca6"><rect x="468.2" y="160.3" width="49.30" height="138.00"/></clipPath>
<g clip-path="url(#ca6)"><g filter="url(#jet)">
<rect x="462.2" y="154.3" width="61.30" height="150.00" fill="#000"/>
<defs><linearGradient id="g17t" x1="0" y1="0" x2="0" y2="1"><stop offset="0.000" stop-color="#fff" stop-opacity="0.1"/><stop offset="0.402" stop-color="#fff" stop-opacity="0.15000000000000002"/><stop offset="0.609" stop-color="#fff" stop-opacity="0.23"/><stop offset="0.755" stop-color="#fff" stop-opacity="0.26"/><stop offset="1.000" stop-color="#fff" stop-opacity="0.27"/></linearGradient>
</defs><path d="M491.65 157.00 L498.15 157.00 L500.40 301.40 L489.40 301.40 Z" fill="url(#g17t)" filter="url(#b15)"/>
<defs><linearGradient id="g17c" x1="0" y1="0" x2="0" y2="1"><stop offset="0.000" stop-color="#fff" stop-opacity="0"/><stop offset="0.250" stop-color="#fff" stop-opacity="0.2"/><stop offset="0.550" stop-color="#fff" stop-opacity="0.34"/><stop offset="1.000" stop-color="#fff" stop-opacity="0.4"/></linearGradient>
</defs><polyline points="495.34,260.00 496.16,261.00 496.39,262.00 495.92,263.00 494.97,264.00 493.99,265.00 493.44,266.00 493.57,267.00 494.32,268.00 495.34,269.00 496.16,270.00 496.39,271.00 495.92,272.00 494.97,273.00 493.99,274.00 493.44,275.00 493.57,276.00 494.32,277.00 495.34,278.00 496.16,279.00 496.39,280.00 495.92,281.00 494.97,282.00 493.99,283.00 493.44,284.00 493.57,285.00 494.32,286.00 495.34,287.00 496.16,288.00 496.39,289.00 495.92,290.00 494.97,291.00 493.99,292.00 493.44,293.00 493.57,294.00 494.32,295.00 495.34,296.00 496.16,297.00 496.39,298.00 495.92,299.00 494.97,300.00 493.99,301.00 493.44,302.00" fill="none" stroke="url(#g17c)" stroke-width="5.6" filter="url(#b1)"/>
<ellipse cx="495.70" cy="294.50" rx="2.2" ry="1.9" fill="#fff" fill-opacity="0.9" filter="url(#b08)"/>
<ellipse cx="493.90" cy="290.00" rx="2.2" ry="1.9" fill="#fff" fill-opacity="0.6" filter="url(#b08)"/>
<ellipse cx="495.90" cy="285.50" rx="2.2" ry="1.9" fill="#fff" fill-opacity="0.5" filter="url(#b08)"/>
<ellipse cx="494.10" cy="281.00" rx="2.2" ry="1.9" fill="#fff" fill-opacity="0.3" filter="url(#b08)"/>
<ellipse cx="495.70" cy="276.00" rx="2.2" ry="1.9" fill="#fff" fill-opacity="0.2" filter="url(#b08)"/>
</g></g>
<rect x="467.59999999999997" y="158.8" width="50.30" height="1.7" fill="#9e9ea3"/>
<rect x="467.59999999999997" y="298.3" width="50.50" height="2.0" fill="#a2a2a2"/>
<path d="M469.10 300.10v3.4M471.89 300.10v2.6M474.69 300.10v3.4M477.48 300.10v2.6M480.28 300.10v3.4M483.07 300.10v2.6M485.86 300.10v3.4M488.66 300.10v2.6M491.45 300.10v3.4M494.25 300.10v2.6M497.04 300.10v3.4M499.84 300.10v2.6M502.63 300.10v3.4M505.42 300.10v2.6M508.22 300.10v3.4M511.01 300.10v2.6M513.81 300.10v3.4M516.60 300.10v2.6" stroke="#6e6e6e" stroke-width="0.8" fill="none"/>
<path d="M468.20 296.62h-1.7M468.20 292.98h-1.7M468.20 289.34h-1.7M468.20 285.70h-4.0M468.20 282.06h-1.7M468.20 278.42h-1.7M468.20 274.78h-1.7M468.20 271.14h-1.7M468.20 267.50h-3.0M468.20 263.86h-1.7M468.20 260.22h-1.7M468.20 256.58h-1.7M468.20 252.94h-1.7M468.20 249.30h-4.0M468.20 245.66h-1.7M468.20 242.02h-1.7M468.20 238.38h-1.7M468.20 234.74h-1.7M468.20 231.10h-3.0M468.20 227.46h-1.7M468.20 223.82h-1.7M468.20 220.18h-1.7M468.20 216.54h-1.7M468.20 212.90h-4.0M468.20 209.26h-1.7M468.20 205.62h-1.7M468.20 201.98h-1.7M468.20 198.34h-1.7M468.20 194.70h-3.0M468.20 191.06h-1.7M468.20 187.42h-1.7M468.20 183.78h-1.7M468.20 180.14h-1.7M468.20 176.50h-4.0M468.20 172.86h-1.7M468.20 169.22h-1.7M468.20 165.58h-1.7M468.20 161.94h-1.7" stroke="#5a5a5a" stroke-width="0.75" fill="none"/>
<text x="463.6" y="178.3" font-size="8.3" font-family="Liberation Sans, Arial, sans-serif" fill="#111" text-anchor="end">20</text>
<text x="463.6" y="215.9" font-size="8.3" font-family="Liberation Sans, Arial, sans-serif" fill="#111" text-anchor="end">10</text>
<text x="463.6" y="251.9" font-size="8.3" font-family="Liberation Sans, Arial, sans-serif" fill="#111" text-anchor="end">0</text>
<text x="463.6" y="287.4" font-size="8.3" font-family="Liberation Sans, Arial, sans-serif" fill="#111" text-anchor="end">10</text>
<text x="462.6" y="312.0" font-size="8.3" font-family="Liberation Sans, Arial, sans-serif" fill="#111" textLength="13.3" lengthAdjust="spacingAndGlyphs">-0.5</text>
<text x="486.4" y="312.0" font-size="8.3" font-family="Liberation Sans, Arial, sans-serif" fill="#111" text-anchor="middle">0</text>
<text x="495.5" y="312.0" font-size="8.3" font-family="Liberation Sans, Arial, sans-serif" fill="#111" textLength="13.3" lengthAdjust="spacingAndGlyphs">-0.5</text>
<clipPath id="cb0"><rect x="61.3" y="336.3" width="48.90" height="135.00"/></clipPath>
<g clip-path="url(#cb0)"><g filter="url(#jet)">
<rect x="55.3" y="330.3" width="60.90" height="147.00" fill="#000"/>
<rect x="78.20" y="331.00" width="14.40" height="145.00" fill="#fff" fill-opacity="0.2" filter="url(#b15)"/>
<polyline points="84.61,331.00 85.49,332.00 86.35,333.00 86.94,334.00 87.09,335.00 86.77,336.00 86.07,337.00 85.17,338.00 84.34,339.00 83.81,340.00 83.73,341.00 84.11,342.00 84.86,343.00 85.76,344.00 86.56,345.00 87.03,346.00 87.04,347.00 86.59,348.00 85.81,349.00 84.91,350.00 84.14,351.00 83.73,352.00 83.79,353.00 84.31,354.00 85.13,355.00 86.02,356.00 86.75,357.00 87.09,358.00 86.95,359.00 86.38,360.00 85.54,361.00 84.65,362.00 83.98,363.00 83.70,364.00 83.91,365.00 84.53,366.00 85.40,367.00 86.27,368.00 86.89,369.00 87.10,370.00 86.82,371.00 86.15,372.00 85.26,373.00 84.42,374.00 83.85,375.00 83.71,376.00 84.05,377.00 84.78,378.00 85.67,379.00 86.49,380.00 87.01,381.00 87.07,382.00 86.66,383.00 85.89,384.00 84.99,385.00 84.21,386.00 83.76,387.00 83.77,388.00 84.24,389.00 85.04,390.00 85.94,391.00 86.69,392.00 87.07,393.00 86.99,394.00 86.46,395.00 85.63,396.00 84.73,397.00 84.03,398.00 83.71,399.00 83.86,400.00 84.45,401.00 85.31,402.00 86.19,403.00 86.85,404.00 87.10,405.00 86.87,406.00 86.23,407.00 85.35,408.00 84.49,409.00 83.88,410.00 83.70,411.00 84.00,412.00 84.69,413.00 85.58,414.00 86.42,415.00 86.97,416.00 87.08,417.00 86.72,418.00 85.98,419.00 85.08,420.00 84.27,421.00 83.78,422.00 83.74,423.00 84.17,424.00 84.95,425.00 85.40,426.50 85.40,476.00" fill="none" stroke="#fff" stroke-opacity="0.36" stroke-width="9" stroke-linejoin="round" filter="url(#b08)"/>
<rect x="83.10" y="427.00" width="4.60" height="50.50" fill="#fff" fill-opacity="0.58" filter="url(#b08)"/>
<ellipse cx="84.20" cy="422.60" rx="2.2" ry="2.3" fill="#fff" fill-opacity="0.6" filter="url(#b08)"/>
<ellipse cx="86.60" cy="416.75" rx="2.2" ry="2.3" fill="#fff" fill-opacity="0.6" filter="url(#b08)"/>
<ellipse cx="84.20" cy="410.90" rx="2.2" ry="2.3" fill="#fff" fill-opacity="0.6" filter="url(#b08)"/>
<ellipse cx="86.60" cy="405.05" rx="2.2" ry="2.3" fill="#fff" fill-opacity="0.6" filter="url(#b08)"/>
<ellipse cx="84.20" cy="399.20" rx="2.2" ry="2.3" fill="#fff" fill-opacity="0.6" filter="url(#b08)"/>
<ellipse cx="86.60" cy="393.35" rx="2.2" ry="2.3" fill="#fff" fill-opacity="0.6" filter="url(#b08)"/>
<ellipse cx="84.20" cy="387.50" rx="2.2" ry="2.3" fill="#fff" fill-opacity="0.6" filter="url(#b08)"/>
<ellipse cx="86.60" cy="381.65" rx="2.2" ry="2.3" fill="#fff" fill-opacity="0.6" filter="url(#b08)"/>
<ellipse cx="84.20" cy="375.80" rx="2.2" ry="2.3" fill="#fff" fill-opacity="0.6" filter="url(#b08)"/>
<ellipse cx="86.60" cy="369.95" rx="2.2" ry="2.3" fill="#fff" fill-opacity="0.6" filter="url(#b08)"/>
<ellipse cx="84.20" cy="364.10" rx="2.2" ry="2.3" fill="#fff" fill-opacity="0.6" filter="url(#b08)"/>
<ellipse cx="86.60" cy="358.25" rx="2.2" ry="2.3" fill="#fff" fill-opacity="0.6" filter="url(#b08)"/>
<ellipse cx="84.20" cy="352.40" rx="2.2" ry="2.3" fill="#fff" fill-opacity="0.6" filter="url(#b08)"/>
<ellipse cx="86.60" cy="346.55" rx="2.2" ry="2.3" fill="#fff" fill-opacity="0.6" filter="url(#b08)"/>
<ellipse cx="84.20" cy="340.70" rx="2.2" ry="2.3" fill="#fff" fill-opacity="0.6" filter="url(#b08)"/>
<ellipse cx="86.60" cy="334.85" rx="2.2" ry="2.3" fill="#fff" fill-opacity="0.6" filter="url(#b08)"/>
<ellipse cx="84.20" cy="329.00" rx="2.2" ry="2.3" fill="#fff" fill-opacity="0.6" filter="url(#b08)"/>
</g></g>
<rect x="60.699999999999996" y="334.8" width="49.90" height="1.7" fill="#9e9ea3"/>
<rect x="60.699999999999996" y="471.3" width="50.10" height="2.0" fill="#a2a2a2"/>
<path d="M62.20 473.10v3.4M64.97 473.10v2.6M67.74 473.10v3.4M70.51 473.10v2.6M73.28 473.10v3.4M76.05 473.10v2.6M78.82 473.10v3.4M81.59 473.10v2.6M84.36 473.10v3.4M87.14 473.10v2.6M89.91 473.10v3.4M92.68 473.10v2.6M95.45 473.10v3.4M98.22 473.10v2.6M100.99 473.10v3.4M103.76 473.10v2.6M106.53 473.10v3.4M109.30 473.10v2.6" stroke="#6e6e6e" stroke-width="0.8" fill="none"/>
<path d="M61.30 468.13h-1.7M61.30 464.40h-4.0M61.30 460.67h-1.7M61.30 456.94h-1.7M61.30 453.21h-1.7M61.30 449.48h-1.7M61.30 445.75h-3.0M61.30 442.02h-1.7M61.30 438.29h-1.7M61.30 434.56h-1.7M61.30 430.83h-1.7M61.30 427.10h-4.0M61.30 423.37h-1.7M61.30 419.64h-1.7M61.30 415.91h-1.7M61.30 412.18h-1.7M61.30 408.45h-3.0M61.30 404.72h-1.7M61.30 400.99h-1.7M61.30 397.26h-1.7M61.30 393.53h-1.7M61.30 389.80h-4.0M61.30 386.07h-1.7M61.30 382.34h-1.7M61.30 378.61h-1.7M61.30 374.88h-1.7M61.30 371.15h-3.0M61.30 367.42h-1.7M61.30 363.69h-1.7M61.30 359.96h-1.7M61.30 356.23h-1.7M61.30 352.50h-4.0M61.30 348.77h-1.7M61.30 345.04h-1.7M61.30 341.31h-1.7M61.30 337.58h-1.7" stroke="#5a5a5a" stroke-width="0.75" fill="none"/>
<text x="53" y="354.5" font-size="8.3" font-family="Liberation Sans, Arial, sans-serif" fill="#111" text-anchor="end">20</text>
<text x="53" y="392.5" font-size="8.3" font-family="Liberation Sans, Arial, sans-serif" fill="#111" text-anchor="end">10</text>
<text x="53" y="429.7" font-size="8.3" font-family="Liberation Sans, Arial, sans-serif" fill="#111" text-anchor="end">0</text>
<text x="53" y="464.9" font-size="8.3" font-family="Liberation Sans, Arial, sans-serif" fill="#111" text-anchor="end">10</text>
<text x="56.6" y="487.0" font-size="8.3" font-family="Liberation Sans, Arial, sans-serif" fill="#111" textLength="13.3" lengthAdjust="spacingAndGlyphs">-0.5</text>
<text x="79.6" y="487.0" font-size="8.3" font-family="Liberation Sans, Arial, sans-serif" fill="#111" text-anchor="middle">0</text>
<text x="88.5" y="487.0" font-size="8.3" font-family="Liberation Sans, Arial, sans-serif" fill="#111" textLength="13.3" lengthAdjust="spacingAndGlyphs">-0.5</text>
<clipPath id="cb1"><rect x="128.5" y="334.7" width="48.70" height="138.20"/></clipPath>
<g clip-path="url(#cb1)"><g filter="url(#jet)">
<rect x="122.5" y="328.7" width="60.70" height="150.20" fill="#000"/>
<polyline points="149.03,330.00 148.79,330.50 148.70,331.00 148.76,331.50 148.97,332.00 149.32,332.50 149.79,333.00 150.34,333.50 150.95,334.00 151.58,334.50 152.20,335.00 152.76,335.50 153.24,336.00 153.60,336.50 153.82,337.00 153.90,337.50 153.82,338.00 153.60,338.50 153.24,339.00 152.76,339.50 152.20,340.00 151.58,340.50 150.95,341.00 150.34,341.50 149.79,342.00 149.32,342.50 148.97,343.00 148.76,343.50 148.70,344.00 148.79,344.50 149.03,345.00 149.41,345.50 149.89,346.00 150.46,346.50 151.08,347.00 151.71,347.50 152.32,348.00 152.86,348.50 153.32,349.00 153.65,349.50 153.85,350.00 153.90,350.50 153.79,351.00 153.54,351.50 153.15,352.00 152.65,352.50 152.08,353.00 151.46,353.50 150.83,354.00 150.23,354.50 149.69,355.00 149.24,355.50 148.92,356.00 148.74,356.50 148.71,357.00 148.83,357.50 149.10,358.00 149.50,358.50 150.00,359.00 150.58,359.50 151.21,360.00 151.83,360.50 152.43,361.00 152.96,361.50 153.40,362.00 153.71,362.50 153.87,363.00 153.89,363.50 153.75,364.00 153.47,364.50 153.06,365.00 152.54,365.50 151.96,366.00 151.33,366.50 150.70,367.00 150.11,367.50 149.59,368.00 149.17,368.50 148.87,369.00 148.72,369.50 148.72,370.00 148.87,370.50 149.17,371.00 149.59,371.50 150.11,372.00 150.70,372.50 151.33,373.00 151.96,373.50 152.54,374.00 153.06,374.50 153.47,375.00 153.75,375.50 153.89,376.00 153.87,376.50 153.71,377.00 153.40,377.50 152.96,378.00 152.43,378.50 151.83,379.00 151.21,379.50 150.58,380.00 150.00,380.50 149.50,381.00 149.10,381.50 148.83,382.00 148.71,382.50 148.74,383.00 148.92,383.50 149.24,384.00 149.69,384.50 150.23,385.00 150.83,385.50 151.46,386.00 152.08,386.50 152.65,387.00 153.15,387.50 153.54,388.00 153.79,388.50 153.90,389.00 153.85,389.50 153.65,390.00 153.32,390.50 152.86,391.00 152.32,391.50 151.71,392.00 151.08,392.50 150.46,393.00 149.89,393.50 149.41,394.00 149.03,394.50 148.79,395.00 148.70,395.50 148.76,396.00 148.97,396.50 149.32,397.00 149.79,397.50 150.34,398.00 150.95,398.50 151.58,399.00 152.20,399.50 152.76,400.00 153.24,400.50 153.60,401.00 153.82,401.50 153.90,402.00 153.82,402.50 153.60,403.00 153.24,403.50 152.76,404.00 152.20,404.50 151.58,405.00 150.95,405.50 150.34,406.00 149.79,406.50 149.32,407.00 148.97,407.50 148.76,408.00 148.70,408.50 148.79,409.00 149.03,409.50 149.41,410.00 149.89,410.50 150.46,411.00 151.08,411.50 151.71,412.00 152.32,412.50 152.86,413.00 153.32,413.50 153.65,414.00 153.85,414.50 153.90,415.00 153.79,415.50 153.54,416.00 153.15,416.50 152.65,417.00 152.08,417.50 151.46,418.00 150.83,418.50 150.23,419.00 149.69,419.50 149.24,420.00 148.92,420.50 148.74,421.00 148.71,421.50 148.83,422.00 149.10,422.50 149.50,423.00 150.00,423.50 150.58,424.00 151.21,424.50" fill="none" stroke="#fff" stroke-opacity="0.18" stroke-width="12.5" filter="url(#b15)"/>
<polyline points="148.86,330.00 148.60,330.50 148.50,331.00 148.57,331.50 148.79,332.00 149.17,332.50 149.67,333.00 150.27,333.50 150.93,334.00 151.61,334.50 152.27,335.00 152.87,335.50 153.39,336.00 153.77,336.50 154.02,337.00 154.10,337.50 154.02,338.00 153.77,338.50 153.39,339.00 152.87,339.50 152.27,340.00 151.61,340.50 150.93,341.00 150.27,341.50 149.67,342.00 149.17,342.50 148.79,343.00 148.57,343.50 148.50,344.00 148.60,344.50 148.86,345.00 149.26,345.50 149.78,346.00 150.40,346.50 151.06,347.00 151.74,347.50 152.40,348.00 152.98,348.50 153.47,349.00 153.84,349.50 154.05,350.00 154.10,350.50 153.98,351.00 153.71,351.50 153.29,352.00 152.76,352.50 152.14,353.00 151.47,353.50 150.79,354.00 150.14,354.50 149.56,355.00 149.08,355.50 148.74,356.00 148.54,356.50 148.51,357.00 148.64,357.50 148.93,358.00 149.36,358.50 149.90,359.00 150.53,359.50 151.20,360.00 151.88,360.50 152.52,361.00 153.09,361.50 153.56,362.00 153.89,362.50 154.07,363.00 154.09,363.50 153.94,364.00 153.64,364.50 153.19,365.00 152.64,365.50 152.01,366.00 151.33,366.50 150.66,367.00 150.02,367.50 149.46,368.00 149.00,368.50 148.68,369.00 148.52,369.50 148.52,370.00 148.68,370.50 149.00,371.00 149.46,371.50 150.02,372.00 150.66,372.50 151.33,373.00 152.01,373.50 152.64,374.00 153.19,374.50 153.64,375.00 153.94,375.50 154.09,376.00 154.07,376.50 153.89,377.00 153.56,377.50 153.09,378.00 152.52,378.50 151.88,379.00 151.20,379.50 150.53,380.00 149.90,380.50 149.36,381.00 148.93,381.50 148.64,382.00 148.51,382.50 148.54,383.00 148.74,383.50 149.08,384.00 149.56,384.50 150.14,385.00 150.79,385.50 151.47,386.00 152.14,386.50 152.76,387.00 153.29,387.50 153.71,388.00 153.98,388.50 154.10,389.00 154.05,389.50 153.84,390.00 153.47,390.50 152.98,391.00 152.40,391.50 151.74,392.00 151.06,392.50 150.40,393.00 149.78,393.50 149.26,394.00 148.86,394.50 148.60,395.00 148.50,395.50 148.57,396.00 148.79,396.50 149.17,397.00 149.67,397.50 150.27,398.00 150.93,398.50 151.61,399.00 152.27,399.50 152.87,400.00 153.39,400.50 153.77,401.00 154.02,401.50 154.10,402.00 154.02,402.50 153.77,403.00 153.39,403.50 152.87,404.00 152.27,404.50 151.61,405.00 150.93,405.50 150.27,406.00 149.67,406.50 149.17,407.00 148.79,407.50 148.57,408.00 148.50,408.50 148.60,409.00 148.86,409.50 149.26,410.00 149.78,410.50 150.40,411.00 151.06,411.50 151.74,412.00 152.40,412.50 152.98,413.00 153.47,413.50 153.84,414.00 154.05,414.50 154.10,415.00 153.98,415.50 153.71,416.00 153.29,416.50 152.76,417.00 152.14,417.50 151.47,418.00 150.79,418.50 150.14,419.00 149.56,419.50 149.08,420.00 148.74,420.50 148.54,421.00 148.51,421.50 148.64,422.00 148.93,422.50 149.36,423.00 149.90,423.50 150.53,424.00 151.20,424.50" fill="none" stroke="#fff" stroke-opacity="0.3" stroke-width="5.2" filter="url(#b1)"/>
<ellipse cx="154.20" cy="414.90" rx="3.6" ry="3.3" fill="#fff" fill-opacity="0.22" filter="url(#b1)"/>
<ellipse cx="154.40" cy="414.90" rx="1.6" ry="1.5" fill="#fff" fill-opacity="0.1" filter="url(#b08)"/>
<ellipse cx="143.30" cy="420.40" rx="1.2" ry="2.8" fill="#fff" fill-opacity="0.3" filter="url(#b08)"/>
<ellipse cx="148.30" cy="420.40" rx="2.2" ry="2.0" fill="#fff" fill-opacity="0.1" filter="url(#b08)"/>
<ellipse cx="154.20" cy="402.00" rx="3.6" ry="3.3" fill="#fff" fill-opacity="0.22" filter="url(#b1)"/>
<ellipse cx="154.40" cy="402.00" rx="1.6" ry="1.5" fill="#fff" fill-opacity="0.1" filter="url(#b08)"/>
<ellipse cx="143.30" cy="407.50" rx="1.2" ry="2.8" fill="#fff" fill-opacity="0.3" filter="url(#b08)"/>
<ellipse cx="148.30" cy="407.50" rx="2.2" ry="2.0" fill="#fff" fill-opacity="0.1" filter="url(#b08)"/>
<ellipse cx="154.20" cy="389.10" rx="3.6" ry="3.3" fill="#fff" fill-opacity="0.22" filter="url(#b1)"/>
<ellipse cx="154.40" cy="389.10" rx="1.6" ry="1.5" fill="#fff" fill-opacity="0.1" filter="url(#b08)"/>
<ellipse cx="143.30" cy="394.60" rx="1.2" ry="2.8" fill="#fff" fill-opacity="0.3" filter="url(#b08)"/>
<ellipse cx="148.30" cy="394.60" rx="2.2" ry="2.0" fill="#fff" fill-opacity="0.1" filter="url(#b08)"/>
<ellipse cx="154.20" cy="376.20" rx="3.6" ry="3.3" fill="#fff" fill-opacity="0.22" filter="url(#b1)"/>
<ellipse cx="154.40" cy="376.20" rx="1.6" ry="1.5" fill="#fff" fill-opacity="0.1" filter="url(#b08)"/>
<ellipse cx="143.30" cy="381.70" rx="1.2" ry="2.8" fill="#fff" fill-opacity="0.3" filter="url(#b08)"/>
<ellipse cx="148.30" cy="381.70" rx="2.2" ry="2.0" fill="#fff" fill-opacity="0.1" filter="url(#b08)"/>
<ellipse cx="154.20" cy="363.30" rx="3.6" ry="3.3" fill="#fff" fill-opacity="0.22" filter="url(#b1)"/>
<ellipse cx="154.40" cy="363.30" rx="1.6" ry="1.5" fill="#fff" fill-opacity="0.1" filter="url(#b08)"/>
<ellipse cx="143.30" cy="368.80" rx="1.2" ry="2.8" fill="#fff" fill-opacity="0.3" filter="url(#b08)"/>
<ellipse cx="148.30" cy="368.80" rx="2.2" ry="2.0" fill="#fff" fill-opacity="0.1" filter="url(#b08)"/>
<ellipse cx="154.20" cy="350.40" rx="3.6" ry="3.3" fill="#fff" fill-opacity="0.22" filter="url(#b1)"/>
<ellipse cx="154.40" cy="350.40" rx="1.6" ry="1.5" fill="#fff" fill-opacity="0.1" filter="url(#b08)"/>
<ellipse cx="143.30" cy="355.90" rx="1.2" ry="2.8" fill="#fff" fill-opacity="0.3" filter="url(#b08)"/>
<ellipse cx="148.30" cy="355.90" rx="2.2" ry="2.0" fill="#fff" fill-opacity="0.1" filter="url(#b08)"/>
<ellipse cx="154.20" cy="337.50" rx="3.6" ry="3.3" fill="#fff" fill-opacity="0.22" filter="url(#b1)"/>
<ellipse cx="154.40" cy="337.50" rx="1.6" ry="1.5" fill="#fff" fill-opacity="0.1" filter="url(#b08)"/>
<ellipse cx="143.30" cy="343.00" rx="1.2" ry="2.8" fill="#fff" fill-opacity="0.3" filter="url(#b08)"/>
<ellipse cx="148.30" cy="343.00" rx="2.2" ry="2.0" fill="#fff" fill-opacity="0.1" filter="url(#b08)"/>
<ellipse cx="154.20" cy="324.60" rx="3.6" ry="3.3" fill="#fff" fill-opacity="0.22" filter="url(#b1)"/>
<ellipse cx="154.40" cy="324.60" rx="1.6" ry="1.5" fill="#fff" fill-opacity="0.1" filter="url(#b08)"/>
<ellipse cx="143.30" cy="330.10" rx="1.2" ry="2.8" fill="#fff" fill-opacity="0.3" filter="url(#b08)"/>
<ellipse cx="148.30" cy="330.10" rx="2.2" ry="2.0" fill="#fff" fill-opacity="0.1" filter="url(#b08)"/>
<defs><linearGradient id="g22h" x1="0" y1="0" x2="0" y2="1"><stop offset="0.000" stop-color="#fff" stop-opacity="0.0"/><stop offset="0.090" stop-color="#fff" stop-opacity="0.18"/><stop offset="1.000" stop-color="#fff" stop-opacity="0.2"/></linearGradient>
</defs><rect x="146.20" y="422.50" width="15.00" height="55.50" fill="url(#g22h)" filter="url(#b15)"/>
<defs><linearGradient id="g22" x1="0" y1="0" x2="0" y2="1"><stop offset="0.000" stop-color="#fff" stop-opacity="0.0"/><stop offset="0.072" stop-color="#fff" stop-opacity="0.32"/><stop offset="1.000" stop-color="#fff" stop-opacity="0.36"/></linearGradient>
</defs><rect x="148.70" y="422.50" width="10.00" height="55.50" fill="url(#g22)" filter="url(#b08)"/>
<defs><linearGradient id="g22c" x1="0" y1="0" x2="0" y2="1"><stop offset="0.000" stop-color="#fff" stop-opacity="0.0"/><stop offset="0.060" stop-color="#fff" stop-opacity="0.5"/><stop offset="0.350" stop-color="#fff" stop-opacity="0.62"/><stop offset="0.500" stop-color="#fff" stop-opacity="0.8"/><stop offset="0.620" stop-color="#fff" stop-opacity="0.97"/><stop offset="1.000" stop-color="#fff" stop-opacity="1.0"/></linearGradient>
</defs><polyline points="153.70,424.50 154.28,425.50 154.59,426.50 154.48,427.50 154.01,428.50 153.39,429.50 152.92,430.50 152.81,431.50 153.12,432.50 153.70,433.50 154.28,434.50 154.59,435.50 154.48,436.50 154.01,437.50 153.39,438.50 152.92,439.50 152.81,440.50 153.12,441.50 153.70,442.50 154.28,443.50 154.59,444.50 154.48,445.50 154.01,446.50 153.39,447.50 152.92,448.50 152.81,449.50 153.12,450.50 153.70,451.50 154.28,452.50 154.59,453.50 154.48,454.50 154.01,455.50 153.39,456.50 152.92,457.50 152.81,458.50 153.12,459.50 153.70,460.50 154.28,461.50 154.59,462.50 154.48,463.50 154.01,464.50 153.39,465.50 152.92,466.50 152.81,467.50 153.12,468.50 153.70,469.50 154.28,470.50 154.59,471.50 154.48,472.50 154.01,473.50 153.39,474.50 152.92,475.50" fill="none" stroke="url(#g22c)" stroke-width="5.2" filter="url(#b08)"/>
<rect x="144.70" y="330.00" width="0.90" height="148.00" fill="#fff" fill-opacity="0.0"/>
<rect x="144.65" y="330" width="0.9" height="150" fill="#000" fill-opacity="0.5"/>
</g><ellipse cx="154.1" cy="468.2" rx="1.1" ry="2.3" fill="#fff" filter="url(#b05)"/><rect x="144.70" y="330" width="0.8" height="150" fill="#000060" opacity="0.28"/></g>
<rect x="127.9" y="333.2" width="49.70" height="1.7" fill="#9e9ea3"/>
<rect x="127.9" y="472.9" width="49.90" height="2.0" fill="#a2a2a2"/>
<path d="M129.40 474.70v3.4M132.16 474.70v2.6M134.92 474.70v3.4M137.68 474.70v2.6M140.44 474.70v3.4M143.19 474.70v2.6M145.95 474.70v3.4M148.71 474.70v2.6M151.47 474.70v3.4M154.23 474.70v2.6M156.99 474.70v3.4M159.75 474.70v2.6M162.51 474.70v3.4M165.26 474.70v2.6M168.02 474.70v3.4M170.78 474.70v2.6M173.54 474.70v3.4M176.30 474.70v2.6" stroke="#6e6e6e" stroke-width="0.8" fill="none"/>
<path d="M128.50 470.86h-1.7M128.50 467.13h-1.7M128.50 463.40h-4.0M128.50 459.67h-1.7M128.50 455.94h-1.7M128.50 452.21h-1.7M128.50 448.48h-1.7M128.50 444.75h-3.0M128.50 441.02h-1.7M128.50 437.29h-1.7M128.50 433.56h-1.7M128.50 429.83h-1.7M128.50 426.10h-4.0M128.50 422.37h-1.7M128.50 418.64h-1.7M128.50 414.91h-1.7M128.50 411.18h-1.7M128.50 407.45h-3.0M128.50 403.72h-1.7M128.50 399.99h-1.7M128.50 396.26h-1.7M128.50 392.53h-1.7M128.50 388.80h-4.0M128.50 385.07h-1.7M128.50 381.34h-1.7M128.50 377.61h-1.7M128.50 373.88h-1.7M128.50 370.15h-3.0M128.50 366.42h-1.7M128.50 362.69h-1.7M128.50 358.96h-1.7M128.50 355.23h-1.7M128.50 351.50h-4.0M128.50 347.77h-1.7M128.50 344.04h-1.7M128.50 340.31h-1.7M128.50 336.58h-1.7" stroke="#5a5a5a" stroke-width="0.75" fill="none"/>
<text x="123" y="354.3" font-size="8.3" font-family="Liberation Sans, Arial, sans-serif" fill="#111" text-anchor="end">20</text>
<text x="123" y="391.9" font-size="8.3" font-family="Liberation Sans, Arial, sans-serif" fill="#111" text-anchor="end">10</text>
<text x="123" y="428.7" font-size="8.3" font-family="Liberation Sans, Arial, sans-serif" fill="#111" text-anchor="end">0</text>
<text x="123" y="464.1" font-size="8.3" font-family="Liberation Sans, Arial, sans-serif" fill="#111" text-anchor="end">10</text>
<text x="124.9" y="487.0" font-size="8.3" font-family="Liberation Sans, Arial, sans-serif" fill="#111" textLength="13.3" lengthAdjust="spacingAndGlyphs">-0.5</text>
<text x="148.6" y="487.0" font-size="8.3" font-family="Liberation Sans, Arial, sans-serif" fill="#111" text-anchor="middle">0</text>
<text x="155.8" y="487.0" font-size="8.3" font-family="Liberation Sans, Arial, sans-serif" fill="#111" textLength="13.3" lengthAdjust="spacingAndGlyphs">-0.5</text>
<clipPath id="cb2"><rect x="196.9" y="335.3" width="49.30" height="137.50"/></clipPath>
<g clip-path="url(#cb2)"><g filter="url(#jet)">
<rect x="190.9" y="329.3" width="61.30" height="149.50" fill="#000"/>
<defs><linearGradient id="g23u" x1="0" y1="0" x2="0" y2="1"><stop offset="0.000" stop-color="#fff" stop-opacity="0.018"/><stop offset="0.505" stop-color="#fff" stop-opacity="0.03"/><stop offset="1.000" stop-color="#fff" stop-opacity="0.06"/></linearGradient>
</defs><path d="M220.85 332.00 L226.35 332.00 L226.85 426.00 L220.35 426.00 Z" fill="url(#g23u)" filter="url(#b15)"/>
<ellipse cx="223.60" cy="412.30" rx="3.9" ry="3.6" fill="#fff" fill-opacity="0.27" filter="url(#b15)"/>
<ellipse cx="223.60" cy="397.50" rx="3.9" ry="3.6" fill="#fff" fill-opacity="0.25" filter="url(#b15)"/>
<ellipse cx="223.60" cy="382.60" rx="3.9" ry="3.6" fill="#fff" fill-opacity="0.23" filter="url(#b15)"/>
<ellipse cx="223.60" cy="367.70" rx="3.9" ry="3.6" fill="#fff" fill-opacity="0.21" filter="url(#b15)"/>
<ellipse cx="223.60" cy="352.80" rx="3.9" ry="3.6" fill="#fff" fill-opacity="0.2" filter="url(#b15)"/>
<ellipse cx="223.60" cy="338.60" rx="3.9" ry="3.6" fill="#fff" fill-opacity="0.15" filter="url(#b15)"/>
<ellipse cx="212.70" cy="420.00" rx="1.4" ry="4.2" fill="#fff" fill-opacity="0.44999999999999996" filter="url(#b08)"/>
<ellipse cx="212.70" cy="405.00" rx="1.4" ry="4.2" fill="#fff" fill-opacity="0.44999999999999996" filter="url(#b08)"/>
<ellipse cx="212.70" cy="390.40" rx="1.4" ry="4.2" fill="#fff" fill-opacity="0.375" filter="url(#b08)"/>
<ellipse cx="212.70" cy="375.50" rx="1.4" ry="4.2" fill="#fff" fill-opacity="0.325" filter="url(#b08)"/>
<ellipse cx="212.70" cy="360.60" rx="1.4" ry="4.2" fill="#fff" fill-opacity="0.275" filter="url(#b08)"/>
<ellipse cx="212.70" cy="345.70" rx="1.4" ry="4.2" fill="#fff" fill-opacity="0.25" filter="url(#b08)"/>
<defs><linearGradient id="g23h" x1="0" y1="0" x2="0" y2="1"><stop offset="0.000" stop-color="#fff" stop-opacity="0.0"/><stop offset="0.123" stop-color="#fff" stop-opacity="0.16"/><stop offset="1.000" stop-color="#fff" stop-opacity="0.2"/></linearGradient>
</defs><path d="M219.00 421.00 L228.20 421.00 L230.45 477.80 L216.75 477.80 Z" fill="url(#g23h)" filter="url(#b15)"/>
<defs><linearGradient id="g23c" x1="0" y1="0" x2="0" y2="1"><stop offset="0.000" stop-color="#fff" stop-opacity="0.0"/><stop offset="0.080" stop-color="#fff" stop-opacity="0.30000000000000004"/><stop offset="0.400" stop-color="#fff" stop-opacity="0.4"/><stop offset="1.000" stop-color="#fff" stop-opacity="0.4"/></linearGradient>
</defs><polyline points="223.84,423.00 224.33,424.00 224.34,425.00 223.86,426.00 223.21,427.00 222.82,428.00 222.95,429.00 223.51,430.00 224.13,431.00 224.40,432.00 224.14,433.00 223.53,434.00 222.96,435.00 222.82,436.00 223.19,437.00 223.84,438.00 224.33,439.00 224.34,440.00 223.86,441.00 223.21,442.00 222.82,443.00 222.95,444.00 223.51,445.00 224.13,446.00 224.40,447.00 224.14,448.00 223.53,449.00 222.96,450.00 222.82,451.00 223.19,452.00 223.84,453.00 224.33,454.00 224.34,455.00 223.86,456.00 223.21,457.00 222.82,458.00 222.95,459.00 223.51,460.00 224.13,461.00 224.40,462.00 224.14,463.00 223.53,464.00 222.96,465.00 222.82,466.00 223.19,467.00 223.84,468.00 224.33,469.00 224.34,470.00 223.86,471.00 223.21,472.00 222.82,473.00 222.95,474.00 223.51,475.00 224.13,476.00 224.40,477.00" fill="none" stroke="url(#g23c)" stroke-width="7.2" stroke-linecap="round" filter="url(#b1)"/>
<ellipse cx="223.60" cy="445.00" rx="1.9" ry="5" fill="#fff" fill-opacity="0.4" filter="url(#b08)"/>
<ellipse cx="223.60" cy="453.00" rx="2.0" ry="5" fill="#fff" fill-opacity="0.45" filter="url(#b08)"/>
<ellipse cx="223.90" cy="461.00" rx="2.2" ry="4" fill="#fff" fill-opacity="0.55" filter="url(#b08)"/>
<ellipse cx="224.10" cy="463.00" rx="1.7" ry="3.0" fill="#fff" fill-opacity="0.7" filter="url(#b05)"/>
<ellipse cx="224.20" cy="467.50" rx="1.9" ry="3.0" fill="#fff" fill-opacity="0.95" filter="url(#b05)"/>
<ellipse cx="216.10" cy="469.60" rx="1.2" ry="1.2" fill="#fff" fill-opacity="0.18766361819562644" filter="url(#b05)"/>
<ellipse cx="219.10" cy="467.20" rx="1.1" ry="1.1" fill="#fff" fill-opacity="0.15013089455650117" filter="url(#b05)"/>
<ellipse cx="211.90" cy="467.20" rx="1.6" ry="0.9" fill="#fff" fill-opacity="0.05629908545868793" filter="url(#b08)"/>
<ellipse cx="230.10" cy="467.20" rx="1.8" ry="0.9" fill="#fff" fill-opacity="0.05629908545868793" filter="url(#b08)"/>
<ellipse cx="216.10" cy="464.80" rx="1.2" ry="1.2" fill="#fff" fill-opacity="0.1415237062600376" filter="url(#b05)"/>
<ellipse cx="219.10" cy="462.40" rx="1.1" ry="1.1" fill="#fff" fill-opacity="0.11321896500803008" filter="url(#b05)"/>
<ellipse cx="211.90" cy="462.40" rx="1.6" ry="0.9" fill="#fff" fill-opacity="0.04245711187801128" filter="url(#b08)"/>
<ellipse cx="230.10" cy="462.40" rx="1.8" ry="0.9" fill="#fff" fill-opacity="0.04245711187801128" filter="url(#b08)"/>
<ellipse cx="216.10" cy="460.00" rx="1.2" ry="1.2" fill="#fff" fill-opacity="0.09864681843205476" filter="url(#b05)"/>
<ellipse cx="219.10" cy="457.60" rx="1.1" ry="1.1" fill="#fff" fill-opacity="0.07891745474564382" filter="url(#b05)"/>
<ellipse cx="211.90" cy="457.60" rx="1.6" ry="0.9" fill="#fff" fill-opacity="0.029594045529616426" filter="url(#b08)"/>
<ellipse cx="230.10" cy="457.60" rx="1.8" ry="0.9" fill="#fff" fill-opacity="0.029594045529616426" filter="url(#b08)"/>
<ellipse cx="216.10" cy="455.20" rx="1.2" ry="1.2" fill="#fff" fill-opacity="0.05975093001673256" filter="url(#b05)"/>
<ellipse cx="219.10" cy="452.80" rx="1.1" ry="1.1" fill="#fff" fill-opacity="0.04780074401338605" filter="url(#b05)"/>
<ellipse cx="211.90" cy="452.80" rx="1.6" ry="0.9" fill="#fff" fill-opacity="0.017925279005019768" filter="url(#b08)"/>
<ellipse cx="230.10" cy="452.80" rx="1.8" ry="0.9" fill="#fff" fill-opacity="0.017925279005019768" filter="url(#b08)"/>
<ellipse cx="216.10" cy="450.40" rx="1.2" ry="1.2" fill="#fff" fill-opacity="0.02613823955360001" filter="url(#b05)"/>
<ellipse cx="219.10" cy="448.00" rx="1.1" ry="1.1" fill="#fff" fill-opacity="0.02091059164288001" filter="url(#b05)"/>
<ellipse cx="211.90" cy="448.00" rx="1.6" ry="0.9" fill="#fff" fill-opacity="0.007841471866080002" filter="url(#b08)"/>
<ellipse cx="230.10" cy="448.00" rx="1.8" ry="0.9" fill="#fff" fill-opacity="0.007841471866080002" filter="url(#b08)"/>
<ellipse cx="216.10" cy="445.60" rx="1.2" ry="1.2" fill="#fff" fill-opacity="0.0015023152355996576" filter="url(#b05)"/>
<ellipse cx="219.10" cy="443.20" rx="1.1" ry="1.1" fill="#fff" fill-opacity="0.0012018521884797262" filter="url(#b05)"/>
<ellipse cx="211.90" cy="443.20" rx="1.6" ry="0.9" fill="#fff" fill-opacity="0.00045069457067989724" filter="url(#b08)"/>
<ellipse cx="230.10" cy="443.20" rx="1.8" ry="0.9" fill="#fff" fill-opacity="0.00045069457067989724" filter="url(#b08)"/>
<rect x="214.05" y="330" width="0.9" height="150" fill="#000" fill-opacity="0.5"/>
</g><rect x="214.10" y="330" width="0.8" height="150" fill="#000060" opacity="0.28"/></g>
<rect x="196.3" y="333.8" width="50.30" height="1.7" fill="#9e9ea3"/>
<rect x="196.3" y="472.8" width="50.50" height="2.0" fill="#a2a2a2"/>
<path d="M197.80 474.60v3.4M200.59 474.60v2.6M203.39 474.60v3.4M206.18 474.60v2.6M208.98 474.60v3.4M211.77 474.60v2.6M214.56 474.60v3.4M217.36 474.60v2.6M220.15 474.60v3.4M222.95 474.60v2.6M225.74 474.60v3.4M228.54 474.60v2.6M231.33 474.60v3.4M234.12 474.60v2.6M236.92 474.60v3.4M239.71 474.60v2.6M242.51 474.60v3.4M245.30 474.60v2.6" stroke="#6e6e6e" stroke-width="0.8" fill="none"/>
<path d="M196.90 472.36h-1.7M196.90 468.63h-1.7M196.90 464.90h-4.0M196.90 461.17h-1.7M196.90 457.44h-1.7M196.90 453.71h-1.7M196.90 449.98h-1.7M196.90 446.25h-3.0M196.90 442.52h-1.7M196.90 438.79h-1.7M196.90 435.06h-1.7M196.90 431.33h-1.7M196.90 427.60h-4.0M196.90 423.87h-1.7M196.90 420.14h-1.7M196.90 416.41h-1.7M196.90 412.68h-1.7M196.90 408.95h-3.0M196.90 405.22h-1.7M196.90 401.49h-1.7M196.90 397.76h-1.7M196.90 394.03h-1.7M196.90 390.30h-4.0M196.90 386.57h-1.7M196.90 382.84h-1.7M196.90 379.11h-1.7M196.90 375.38h-1.7M196.90 371.65h-3.0M196.90 367.92h-1.7M196.90 364.19h-1.7M196.90 360.46h-1.7M196.90 356.73h-1.7M196.90 353.00h-4.0M196.90 349.27h-1.7M196.90 345.54h-1.7M196.90 341.81h-1.7M196.90 338.08h-1.7" stroke="#5a5a5a" stroke-width="0.75" fill="none"/>
<text x="192" y="354.9" font-size="8.3" font-family="Liberation Sans, Arial, sans-serif" fill="#111" text-anchor="end">20</text>
<text x="192" y="392.5" font-size="8.3" font-family="Liberation Sans, Arial, sans-serif" fill="#111" text-anchor="end">10</text>
<text x="192" y="430.2" font-size="8.3" font-family="Liberation Sans, Arial, sans-serif" fill="#111" text-anchor="end">0</text>
<text x="192" y="465.4" font-size="8.3" font-family="Liberation Sans, Arial, sans-serif" fill="#111" text-anchor="end">10</text>
<text x="192.5" y="487.0" font-size="8.3" font-family="Liberation Sans, Arial, sans-serif" fill="#111" textLength="13.3" lengthAdjust="spacingAndGlyphs">-0.5</text>
<text x="215.5" y="487.0" font-size="8.3" font-family="Liberation Sans, Arial, sans-serif" fill="#111" text-anchor="middle">0</text>
<text x="224.9" y="487.0" font-size="8.3" font-family="Liberation Sans, Arial, sans-serif" fill="#111" textLength="13.3" lengthAdjust="spacingAndGlyphs">-0.5</text>
<clipPath id="cb3"><rect x="263.8" y="334.7" width="48.40" height="139.10"/></clipPath>
<g clip-path="url(#cb3)"><g filter="url(#jet)">
<rect x="257.8" y="328.7" width="60.40" height="151.10" fill="#000"/>
<defs><linearGradient id="g24u" x1="0" y1="0" x2="0" y2="1"><stop offset="0.000" stop-color="#fff" stop-opacity="0.03"/><stop offset="0.505" stop-color="#fff" stop-opacity="0.05"/><stop offset="1.000" stop-color="#fff" stop-opacity="0.1"/></linearGradient>
</defs><path d="M288.05 331.70 L293.55 331.70 L294.05 426.00 L287.55 426.00 Z" fill="url(#g24u)" filter="url(#b15)"/>
<ellipse cx="290.80" cy="409.80" rx="3.9" ry="3.6" fill="#fff" fill-opacity="0.26" filter="url(#b15)"/>
<ellipse cx="290.80" cy="394.50" rx="3.9" ry="3.6" fill="#fff" fill-opacity="0.2" filter="url(#b15)"/>
<ellipse cx="290.80" cy="379.50" rx="3.9" ry="3.6" fill="#fff" fill-opacity="0.16" filter="url(#b15)"/>
<ellipse cx="290.80" cy="364.50" rx="3.9" ry="3.6" fill="#fff" fill-opacity="0.13" filter="url(#b15)"/>
<ellipse cx="290.80" cy="349.50" rx="3.9" ry="3.6" fill="#fff" fill-opacity="0.12" filter="url(#b15)"/>
<ellipse cx="290.80" cy="337.00" rx="3.9" ry="3.6" fill="#fff" fill-opacity="0.1" filter="url(#b15)"/>
<ellipse cx="279.00" cy="418.50" rx="1.4" ry="4.2" fill="#fff" fill-opacity="0.42500000000000004" filter="url(#b08)"/>
<ellipse cx="279.00" cy="402.00" rx="1.4" ry="4.2" fill="#fff" fill-opacity="0.325" filter="url(#b08)"/>
<ellipse cx="279.00" cy="386.00" rx="1.4" ry="4.2" fill="#fff" fill-opacity="0.22499999999999998" filter="url(#b08)"/>
<ellipse cx="279.00" cy="371.00" rx="1.4" ry="4.2" fill="#fff" fill-opacity="0.1625" filter="url(#b08)"/>
<ellipse cx="279.00" cy="356.00" rx="1.4" ry="4.2" fill="#fff" fill-opacity="0.125" filter="url(#b08)"/>
<defs><linearGradient id="g24h" x1="0" y1="0" x2="0" y2="1"><stop offset="0.000" stop-color="#fff" stop-opacity="0.0"/><stop offset="0.121" stop-color="#fff" stop-opacity="0.16"/><stop offset="1.000" stop-color="#fff" stop-opacity="0.2"/></linearGradient>
</defs><path d="M286.30 421.00 L295.30 421.00 L297.55 478.80 L284.05 478.80 Z" fill="url(#g24h)" filter="url(#b15)"/>
<defs><linearGradient id="g24c" x1="0" y1="0" x2="0" y2="1"><stop offset="0.000" stop-color="#fff" stop-opacity="0.0"/><stop offset="0.080" stop-color="#fff" stop-opacity="0.30000000000000004"/><stop offset="0.400" stop-color="#fff" stop-opacity="0.4"/><stop offset="1.000" stop-color="#fff" stop-opacity="0.4"/></linearGradient>
</defs><polyline points="291.04,423.00 291.53,424.00 291.54,425.00 291.06,426.00 290.41,427.00 290.02,428.00 290.15,429.00 290.71,430.00 291.33,431.00 291.60,432.00 291.34,433.00 290.73,434.00 290.16,435.00 290.02,436.00 290.39,437.00 291.04,438.00 291.53,439.00 291.54,440.00 291.06,441.00 290.41,442.00 290.02,443.00 290.15,444.00 290.71,445.00 291.33,446.00 291.60,447.00 291.34,448.00 290.73,449.00 290.16,450.00 290.02,451.00 290.39,452.00 291.04,453.00 291.53,454.00 291.54,455.00 291.06,456.00 290.41,457.00 290.02,458.00 290.15,459.00 290.71,460.00 291.33,461.00 291.60,462.00 291.34,463.00 290.73,464.00 290.16,465.00 290.02,466.00 290.39,467.00 291.04,468.00 291.53,469.00 291.54,470.00 291.06,471.00 290.41,472.00 290.02,473.00 290.15,474.00 290.71,475.00 291.33,476.00 291.60,477.00 291.34,478.00" fill="none" stroke="url(#g24c)" stroke-width="7.0" stroke-linecap="round" filter="url(#b1)"/>
<ellipse cx="290.80" cy="450.00" rx="1.9" ry="5" fill="#fff" fill-opacity="0.22" filter="url(#b08)"/>
<ellipse cx="290.80" cy="460.00" rx="2.0" ry="4" fill="#fff" fill-opacity="0.35" filter="url(#b08)"/>
<ellipse cx="291.10" cy="468.50" rx="2.0" ry="2.0" fill="#fff" fill-opacity="0.8" filter="url(#b05)"/>
<ellipse cx="282.40" cy="470.60" rx="1.2" ry="1.2" fill="#fff" fill-opacity="0.2636133491574628" filter="url(#b05)"/>
<ellipse cx="285.40" cy="468.20" rx="1.1" ry="1.1" fill="#fff" fill-opacity="0.21089067932597028" filter="url(#b05)"/>
<ellipse cx="278.20" cy="468.20" rx="1.6" ry="0.9" fill="#fff" fill-opacity="0.07908400474723884" filter="url(#b08)"/>
<ellipse cx="297.30" cy="468.20" rx="1.8" ry="0.9" fill="#fff" fill-opacity="0.07908400474723884" filter="url(#b08)"/>
<ellipse cx="282.40" cy="465.80" rx="1.2" ry="1.2" fill="#fff" fill-opacity="0.21117143060520085" filter="url(#b05)"/>
<ellipse cx="285.40" cy="463.40" rx="1.1" ry="1.1" fill="#fff" fill-opacity="0.1689371444841607" filter="url(#b05)"/>
<ellipse cx="278.20" cy="463.40" rx="1.6" ry="0.9" fill="#fff" fill-opacity="0.06335142918156025" filter="url(#b08)"/>
<ellipse cx="297.30" cy="463.40" rx="1.8" ry="0.9" fill="#fff" fill-opacity="0.06335142918156025" filter="url(#b08)"/>
<ellipse cx="282.40" cy="461.00" rx="1.2" ry="1.2" fill="#fff" fill-opacity="0.16159005453289002" filter="url(#b05)"/>
<ellipse cx="285.40" cy="458.60" rx="1.1" ry="1.1" fill="#fff" fill-opacity="0.12927204362631203" filter="url(#b05)"/>
<ellipse cx="278.20" cy="458.60" rx="1.6" ry="0.9" fill="#fff" fill-opacity="0.048477016359867" filter="url(#b08)"/>
<ellipse cx="297.30" cy="458.60" rx="1.8" ry="0.9" fill="#fff" fill-opacity="0.048477016359867" filter="url(#b08)"/>
<ellipse cx="282.40" cy="456.20" rx="1.2" ry="1.2" fill="#fff" fill-opacity="0.11531852086444518" filter="url(#b05)"/>
<ellipse cx="285.40" cy="453.80" rx="1.1" ry="1.1" fill="#fff" fill-opacity="0.09225481669155615" filter="url(#b05)"/>
<ellipse cx="278.20" cy="453.80" rx="1.6" ry="0.9" fill="#fff" fill-opacity="0.034595556259333554" filter="url(#b08)"/>
<ellipse cx="297.30" cy="453.80" rx="1.8" ry="0.9" fill="#fff" fill-opacity="0.034595556259333554" filter="url(#b08)"/>
<ellipse cx="282.40" cy="451.40" rx="1.2" ry="1.2" fill="#fff" fill-opacity="0.0730307651984073" filter="url(#b05)"/>
<ellipse cx="285.40" cy="449.00" rx="1.1" ry="1.1" fill="#fff" fill-opacity="0.058424612158725846" filter="url(#b05)"/>
<ellipse cx="278.20" cy="449.00" rx="1.6" ry="0.9" fill="#fff" fill-opacity="0.02190922955952219" filter="url(#b08)"/>
<ellipse cx="297.30" cy="449.00" rx="1.8" ry="0.9" fill="#fff" fill-opacity="0.02190922955952219" filter="url(#b08)"/>
<ellipse cx="282.40" cy="446.60" rx="1.2" ry="1.2" fill="#fff" fill-opacity="0.0358869591692381" filter="url(#b05)"/>
<ellipse cx="285.40" cy="444.20" rx="1.1" ry="1.1" fill="#fff" fill-opacity="0.02870956733539048" filter="url(#b05)"/>
<ellipse cx="278.20" cy="444.20" rx="1.6" ry="0.9" fill="#fff" fill-opacity="0.01076608775077143" filter="url(#b08)"/>
<ellipse cx="297.30" cy="444.20" rx="1.8" ry="0.9" fill="#fff" fill-opacity="0.01076608775077143" filter="url(#b08)"/>
<ellipse cx="282.40" cy="441.80" rx="1.2" ry="1.2" fill="#fff" fill-opacity="0.006628019859035166" filter="url(#b05)"/>
<ellipse cx="285.40" cy="439.40" rx="1.1" ry="1.1" fill="#fff" fill-opacity="0.0053024158872281325" filter="url(#b05)"/>
<ellipse cx="278.20" cy="439.40" rx="1.6" ry="0.9" fill="#fff" fill-opacity="0.0019884059577105497" filter="url(#b08)"/>
<ellipse cx="297.30" cy="439.40" rx="1.8" ry="0.9" fill="#fff" fill-opacity="0.0019884059577105497" filter="url(#b08)"/>
<rect x="280.35" y="330" width="0.9" height="150" fill="#000" fill-opacity="0.5"/>
</g><rect x="280.40" y="330" width="0.8" height="150" fill="#000060" opacity="0.28"/></g>
<rect x="263.2" y="333.2" width="49.40" height="1.7" fill="#9e9ea3"/>
<rect x="263.2" y="473.8" width="49.60" height="2.0" fill="#a2a2a2"/>
<path d="M264.70 475.60v3.4M267.44 475.60v2.6M270.18 475.60v3.4M272.92 475.60v2.6M275.66 475.60v3.4M278.41 475.60v2.6M281.15 475.60v3.4M283.89 475.60v2.6M286.63 475.60v3.4M289.37 475.60v2.6M292.11 475.60v3.4M294.85 475.60v2.6M297.59 475.60v3.4M300.34 475.60v2.6M303.08 475.60v3.4M305.82 475.60v2.6M308.56 475.60v3.4M311.30 475.60v2.6" stroke="#6e6e6e" stroke-width="0.8" fill="none"/>
<path d="M263.80 472.36h-1.7M263.80 468.63h-1.7M263.80 464.90h-4.0M263.80 461.17h-1.7M263.80 457.44h-1.7M263.80 453.71h-1.7M263.80 449.98h-1.7M263.80 446.25h-3.0M263.80 442.52h-1.7M263.80 438.79h-1.7M263.80 435.06h-1.7M263.80 431.33h-1.7M263.80 427.60h-4.0M263.80 423.87h-1.7M263.80 420.14h-1.7M263.80 416.41h-1.7M263.80 412.68h-1.7M263.80 408.95h-3.0M263.80 405.22h-1.7M263.80 401.49h-1.7M263.80 397.76h-1.7M263.80 394.03h-1.7M263.80 390.30h-4.0M263.80 386.57h-1.7M263.80 382.84h-1.7M263.80 379.11h-1.7M263.80 375.38h-1.7M263.80 371.65h-3.0M263.80 367.92h-1.7M263.80 364.19h-1.7M263.80 360.46h-1.7M263.80 356.73h-1.7M263.80 353.00h-4.0M263.80 349.27h-1.7M263.80 345.54h-1.7M263.80 341.81h-1.7M263.80 338.08h-1.7" stroke="#5a5a5a" stroke-width="0.75" fill="none"/>
<text x="259" y="354.9" font-size="8.3" font-family="Liberation Sans, Arial, sans-serif" fill="#111" text-anchor="end">20</text>
<text x="259" y="392.5" font-size="8.3" font-family="Liberation Sans, Arial, sans-serif" fill="#111" text-anchor="end">10</text>
<text x="259" y="430.2" font-size="8.3" font-family="Liberation Sans, Arial, sans-serif" fill="#111" text-anchor="end">0</text>
<text x="259" y="465.4" font-size="8.3" font-family="Liberation Sans, Arial, sans-serif" fill="#111" text-anchor="end">10</text>
<text x="260" y="487.0" font-size="8.3" font-family="Liberation Sans, Arial, sans-serif" fill="#111" textLength="13.3" lengthAdjust="spacingAndGlyphs">-0.5</text>
<text x="283" y="487.0" font-size="8.3" font-family="Liberation Sans, Arial, sans-serif" fill="#111" text-anchor="middle">0</text>
<text x="291.4" y="487.0" font-size="8.3" font-family="Liberation Sans, Arial, sans-serif" fill="#111" textLength="13.3" lengthAdjust="spacingAndGlyphs">-0.5</text>
<clipPath id="cb4"><rect x="331.8" y="334.7" width="49.20" height="138.10"/></clipPath>
<g clip-path="url(#cb4)"><g filter="url(#jet)">
<rect x="325.8" y="328.7" width="61.20" height="150.10" fill="#000"/>
<defs><linearGradient id="g25u" x1="0" y1="0" x2="0" y2="1"><stop offset="0.000" stop-color="#fff" stop-opacity="0.06"/><stop offset="0.505" stop-color="#fff" stop-opacity="0.1"/><stop offset="1.000" stop-color="#fff" stop-opacity="0.2"/></linearGradient>
</defs><path d="M356.85 331.70 L362.35 331.70 L362.85 424.00 L356.35 424.00 Z" fill="url(#g25u)" filter="url(#b15)"/>
<ellipse cx="359.60" cy="407.60" rx="3.9" ry="3.6" fill="#fff" fill-opacity="0.16" filter="url(#b15)"/>
<ellipse cx="359.60" cy="390.00" rx="3.9" ry="3.6" fill="#fff" fill-opacity="0.1" filter="url(#b15)"/>
<ellipse cx="359.60" cy="373.00" rx="3.9" ry="3.6" fill="#fff" fill-opacity="0.07" filter="url(#b15)"/>
<ellipse cx="359.60" cy="356.00" rx="3.9" ry="3.6" fill="#fff" fill-opacity="0.05" filter="url(#b15)"/>
<ellipse cx="347.80" cy="416.40" rx="1.4" ry="4.2" fill="#fff" fill-opacity="0.44999999999999996" filter="url(#b08)"/>
<ellipse cx="347.80" cy="398.00" rx="1.4" ry="4.2" fill="#fff" fill-opacity="0.22499999999999998" filter="url(#b08)"/>
<ellipse cx="347.80" cy="381.00" rx="1.4" ry="4.2" fill="#fff" fill-opacity="0.125" filter="url(#b08)"/>
<defs><linearGradient id="g25h" x1="0" y1="0" x2="0" y2="1"><stop offset="0.000" stop-color="#fff" stop-opacity="0.0"/><stop offset="0.119" stop-color="#fff" stop-opacity="0.16"/><stop offset="1.000" stop-color="#fff" stop-opacity="0.2"/></linearGradient>
</defs><path d="M355.80 419.00 L363.40 419.00 L365.65 477.80 L353.55 477.80 Z" fill="url(#g25h)" filter="url(#b15)"/>
<defs><linearGradient id="g25c" x1="0" y1="0" x2="0" y2="1"><stop offset="0.000" stop-color="#fff" stop-opacity="0.0"/><stop offset="0.080" stop-color="#fff" stop-opacity="0.28500000000000003"/><stop offset="0.400" stop-color="#fff" stop-opacity="0.38"/><stop offset="1.000" stop-color="#fff" stop-opacity="0.38"/></linearGradient>
</defs><polyline points="359.84,421.00 360.33,422.00 360.34,423.00 359.86,424.00 359.21,425.00 358.82,426.00 358.95,427.00 359.51,428.00 360.13,429.00 360.40,430.00 360.14,431.00 359.53,432.00 358.96,433.00 358.82,434.00 359.19,435.00 359.84,436.00 360.33,437.00 360.34,438.00 359.86,439.00 359.21,440.00 358.82,441.00 358.95,442.00 359.51,443.00 360.13,444.00 360.40,445.00 360.14,446.00 359.53,447.00 358.96,448.00 358.82,449.00 359.19,450.00 359.84,451.00 360.33,452.00 360.34,453.00 359.86,454.00 359.21,455.00 358.82,456.00 358.95,457.00 359.51,458.00 360.13,459.00 360.40,460.00 360.14,461.00 359.53,462.00 358.96,463.00 358.82,464.00 359.19,465.00 359.84,466.00 360.33,467.00 360.34,468.00 359.86,469.00 359.21,470.00 358.82,471.00 358.95,472.00 359.51,473.00 360.13,474.00 360.40,475.00 360.14,476.00 359.53,477.00" fill="none" stroke="url(#g25c)" stroke-width="5.6" stroke-linecap="round" filter="url(#b1)"/>
<ellipse cx="359.60" cy="452.00" rx="1.9" ry="4" fill="#fff" fill-opacity="0.2" filter="url(#b08)"/>
<ellipse cx="359.60" cy="460.00" rx="2.0" ry="3" fill="#fff" fill-opacity="0.3" filter="url(#b08)"/>
<ellipse cx="360.20" cy="465.50" rx="2.0" ry="1.8" fill="#fff" fill-opacity="0.8" filter="url(#b05)"/>
<ellipse cx="360.00" cy="470.00" rx="2.0" ry="1.4" fill="#fff" fill-opacity="0.55" filter="url(#b05)"/>
<ellipse cx="352.00" cy="469.40" rx="1.2" ry="1.2" fill="#fff" fill-opacity="0.6" filter="url(#b05)"/>
<ellipse cx="352.00" cy="464.60" rx="1.2" ry="1.2" fill="#fff" fill-opacity="0.4" filter="url(#b05)"/>
<ellipse cx="351.20" cy="469.60" rx="1.2" ry="1.2" fill="#fff" fill-opacity="0.37768981781377037" filter="url(#b05)"/>
<ellipse cx="354.20" cy="467.20" rx="1.1" ry="1.1" fill="#fff" fill-opacity="0.3021518542510163" filter="url(#b05)"/>
<ellipse cx="347.00" cy="467.20" rx="1.6" ry="0.9" fill="#fff" fill-opacity="0.1133069453441311" filter="url(#b08)"/>
<ellipse cx="366.10" cy="467.20" rx="1.8" ry="0.9" fill="#fff" fill-opacity="0.1133069453441311" filter="url(#b08)"/>
<ellipse cx="351.20" cy="464.80" rx="1.2" ry="1.2" fill="#fff" fill-opacity="0.31624748120833573" filter="url(#b05)"/>
<ellipse cx="354.20" cy="462.40" rx="1.1" ry="1.1" fill="#fff" fill-opacity="0.2529979849666686" filter="url(#b05)"/>
<ellipse cx="347.00" cy="462.40" rx="1.6" ry="0.9" fill="#fff" fill-opacity="0.09487424436250072" filter="url(#b08)"/>
<ellipse cx="366.10" cy="462.40" rx="1.8" ry="0.9" fill="#fff" fill-opacity="0.09487424436250072" filter="url(#b08)"/>
<ellipse cx="351.20" cy="460.00" rx="1.2" ry="1.2" fill="#fff" fill-opacity="0.25745214770316766" filter="url(#b05)"/>
<ellipse cx="354.20" cy="457.60" rx="1.1" ry="1.1" fill="#fff" fill-opacity="0.20596171816253414" filter="url(#b05)"/>
<ellipse cx="347.00" cy="457.60" rx="1.6" ry="0.9" fill="#fff" fill-opacity="0.0772356443109503" filter="url(#b08)"/>
<ellipse cx="366.10" cy="457.60" rx="1.8" ry="0.9" fill="#fff" fill-opacity="0.0772356443109503" filter="url(#b08)"/>
<ellipse cx="351.20" cy="455.20" rx="1.2" ry="1.2" fill="#fff" fill-opacity="0.2016162156467478" filter="url(#b05)"/>
<ellipse cx="354.20" cy="452.80" rx="1.1" ry="1.1" fill="#fff" fill-opacity="0.16129297251739827" filter="url(#b05)"/>
<ellipse cx="347.00" cy="452.80" rx="1.6" ry="0.9" fill="#fff" fill-opacity="0.06048486469402434" filter="url(#b08)"/>
<ellipse cx="366.10" cy="452.80" rx="1.8" ry="0.9" fill="#fff" fill-opacity="0.06048486469402434" filter="url(#b08)"/>
<ellipse cx="351.20" cy="450.40" rx="1.2" ry="1.2" fill="#fff" fill-opacity="0.14916064349747574" filter="url(#b05)"/>
<ellipse cx="354.20" cy="448.00" rx="1.1" ry="1.1" fill="#fff" fill-opacity="0.1193285147979806" filter="url(#b05)"/>
<ellipse cx="347.00" cy="448.00" rx="1.6" ry="0.9" fill="#fff" fill-opacity="0.04474819304924272" filter="url(#b08)"/>
<ellipse cx="366.10" cy="448.00" rx="1.8" ry="0.9" fill="#fff" fill-opacity="0.04474819304924272" filter="url(#b08)"/>
<ellipse cx="351.20" cy="445.60" rx="1.2" ry="1.2" fill="#fff" fill-opacity="0.10069123306548063" filter="url(#b05)"/>
<ellipse cx="354.20" cy="443.20" rx="1.1" ry="1.1" fill="#fff" fill-opacity="0.08055298645238451" filter="url(#b05)"/>
<ellipse cx="347.00" cy="443.20" rx="1.6" ry="0.9" fill="#fff" fill-opacity="0.030207369919644185" filter="url(#b08)"/>
<ellipse cx="366.10" cy="443.20" rx="1.8" ry="0.9" fill="#fff" fill-opacity="0.030207369919644185" filter="url(#b08)"/>
<ellipse cx="351.20" cy="440.80" rx="1.2" ry="1.2" fill="#fff" fill-opacity="0.05717662970882714" filter="url(#b05)"/>
<ellipse cx="354.20" cy="438.40" rx="1.1" ry="1.1" fill="#fff" fill-opacity="0.04574130376706172" filter="url(#b05)"/>
<ellipse cx="347.00" cy="438.40" rx="1.6" ry="0.9" fill="#fff" fill-opacity="0.017152988912648142" filter="url(#b08)"/>
<ellipse cx="366.10" cy="438.40" rx="1.8" ry="0.9" fill="#fff" fill-opacity="0.017152988912648142" filter="url(#b08)"/>
<ellipse cx="351.20" cy="436.00" rx="1.2" ry="1.2" fill="#fff" fill-opacity="0.020514884070184664" filter="url(#b05)"/>
<ellipse cx="354.20" cy="433.60" rx="1.1" ry="1.1" fill="#fff" fill-opacity="0.01641190725614773" filter="url(#b05)"/>
<ellipse cx="347.00" cy="433.60" rx="1.6" ry="0.9" fill="#fff" fill-opacity="0.006154465221055399" filter="url(#b08)"/>
<ellipse cx="366.10" cy="433.60" rx="1.8" ry="0.9" fill="#fff" fill-opacity="0.006154465221055399" filter="url(#b08)"/>
<rect x="349.15" y="330" width="0.9" height="150" fill="#000" fill-opacity="0.5"/>
</g><rect x="349.20" y="330" width="0.8" height="150" fill="#000060" opacity="0.28"/></g>
<rect x="331.2" y="333.2" width="50.20" height="1.7" fill="#9e9ea3"/>
<rect x="331.2" y="472.8" width="50.40" height="2.0" fill="#a2a2a2"/>
<path d="M332.70 474.60v3.4M335.49 474.60v2.6M338.28 474.60v3.4M341.06 474.60v2.6M343.85 474.60v3.4M346.64 474.60v2.6M349.43 474.60v3.4M352.22 474.60v2.6M355.01 474.60v3.4M357.79 474.60v2.6M360.58 474.60v3.4M363.37 474.60v2.6M366.16 474.60v3.4M368.95 474.60v2.6M371.74 474.60v3.4M374.52 474.60v2.6M377.31 474.60v3.4M380.10 474.60v2.6" stroke="#6e6e6e" stroke-width="0.8" fill="none"/>
<path d="M331.80 472.36h-1.7M331.80 468.63h-1.7M331.80 464.90h-4.0M331.80 461.17h-1.7M331.80 457.44h-1.7M331.80 453.71h-1.7M331.80 449.98h-1.7M331.80 446.25h-3.0M331.80 442.52h-1.7M331.80 438.79h-1.7M331.80 435.06h-1.7M331.80 431.33h-1.7M331.80 427.60h-4.0M331.80 423.87h-1.7M331.80 420.14h-1.7M331.80 416.41h-1.7M331.80 412.68h-1.7M331.80 408.95h-3.0M331.80 405.22h-1.7M331.80 401.49h-1.7M331.80 397.76h-1.7M331.80 394.03h-1.7M331.80 390.30h-4.0M331.80 386.57h-1.7M331.80 382.84h-1.7M331.80 379.11h-1.7M331.80 375.38h-1.7M331.80 371.65h-3.0M331.80 367.92h-1.7M331.80 364.19h-1.7M331.80 360.46h-1.7M331.80 356.73h-1.7M331.80 353.00h-4.0M331.80 349.27h-1.7M331.80 345.54h-1.7M331.80 341.81h-1.7M331.80 338.08h-1.7" stroke="#5a5a5a" stroke-width="0.75" fill="none"/>
<text x="326.3" y="354.9" font-size="8.3" font-family="Liberation Sans, Arial, sans-serif" fill="#111" text-anchor="end">20</text>
<text x="326.3" y="392.5" font-size="8.3" font-family="Liberation Sans, Arial, sans-serif" fill="#111" text-anchor="end">10</text>
<text x="326.3" y="430.2" font-size="8.3" font-family="Liberation Sans, Arial, sans-serif" fill="#111" text-anchor="end">0</text>
<text x="326.3" y="465.7" font-size="8.3" font-family="Liberation Sans, Arial, sans-serif" fill="#111" text-anchor="end">10</text>
<text x="328.2" y="487.0" font-size="8.3" font-family="Liberation Sans, Arial, sans-serif" fill="#111" textLength="13.3" lengthAdjust="spacingAndGlyphs">-0.5</text>
<text x="351" y="487.0" font-size="8.3" font-family="Liberation Sans, Arial, sans-serif" fill="#111" text-anchor="middle">0</text>
<text x="360" y="487.0" font-size="8.3" font-family="Liberation Sans, Arial, sans-serif" fill="#111" textLength="13.3" lengthAdjust="spacingAndGlyphs">-0.5</text>
<clipPath id="cb5"><rect x="400.4" y="334.7" width="49.60" height="138.10"/></clipPath>
<g clip-path="url(#cb5)"><g filter="url(#jet)">
<rect x="394.4" y="328.7" width="61.60" height="150.10" fill="#000"/>
<defs><linearGradient id="g26u" x1="0" y1="0" x2="0" y2="1"><stop offset="0.000" stop-color="#fff" stop-opacity="0.072"/><stop offset="0.505" stop-color="#fff" stop-opacity="0.12"/><stop offset="1.000" stop-color="#fff" stop-opacity="0.24"/></linearGradient>
</defs><path d="M425.05 331.70 L430.55 331.70 L431.05 423.00 L424.55 423.00 Z" fill="url(#g26u)" filter="url(#b15)"/>
<ellipse cx="427.80" cy="404.00" rx="3.9" ry="3.6" fill="#fff" fill-opacity="0.07" filter="url(#b15)"/>
<ellipse cx="427.80" cy="385.00" rx="3.9" ry="3.6" fill="#fff" fill-opacity="0.04" filter="url(#b15)"/>
<ellipse cx="416.60" cy="415.30" rx="1.4" ry="4.2" fill="#fff" fill-opacity="0.325" filter="url(#b08)"/>
<ellipse cx="416.60" cy="396.00" rx="1.4" ry="4.2" fill="#fff" fill-opacity="0.125" filter="url(#b08)"/>
<defs><linearGradient id="g26h" x1="0" y1="0" x2="0" y2="1"><stop offset="0.000" stop-color="#fff" stop-opacity="0.0"/><stop offset="0.117" stop-color="#fff" stop-opacity="0.16"/><stop offset="1.000" stop-color="#fff" stop-opacity="0.2"/></linearGradient>
</defs><path d="M424.00 418.00 L431.60 418.00 L433.85 477.80 L421.75 477.80 Z" fill="url(#g26h)" filter="url(#b15)"/>
<defs><linearGradient id="g26c" x1="0" y1="0" x2="0" y2="1"><stop offset="0.000" stop-color="#fff" stop-opacity="0.0"/><stop offset="0.080" stop-color="#fff" stop-opacity="0.27"/><stop offset="0.400" stop-color="#fff" stop-opacity="0.36"/><stop offset="1.000" stop-color="#fff" stop-opacity="0.36"/></linearGradient>
</defs><polyline points="428.04,420.00 428.53,421.00 428.54,422.00 428.06,423.00 427.41,424.00 427.02,425.00 427.15,426.00 427.71,427.00 428.33,428.00 428.60,429.00 428.34,430.00 427.73,431.00 427.16,432.00 427.02,433.00 427.39,434.00 428.04,435.00 428.53,436.00 428.54,437.00 428.06,438.00 427.41,439.00 427.02,440.00 427.15,441.00 427.71,442.00 428.33,443.00 428.60,444.00 428.34,445.00 427.73,446.00 427.16,447.00 427.02,448.00 427.39,449.00 428.04,450.00 428.53,451.00 428.54,452.00 428.06,453.00 427.41,454.00 427.02,455.00 427.15,456.00 427.71,457.00 428.33,458.00 428.60,459.00 428.34,460.00 427.73,461.00 427.16,462.00 427.02,463.00 427.39,464.00 428.04,465.00 428.53,466.00 428.54,467.00 428.06,468.00 427.41,469.00 427.02,470.00 427.15,471.00 427.71,472.00 428.33,473.00 428.60,474.00 428.34,475.00 427.73,476.00 427.16,477.00" fill="none" stroke="url(#g26c)" stroke-width="5.6" stroke-linecap="round" filter="url(#b1)"/>
<ellipse cx="427.80" cy="452.00" rx="1.9" ry="4" fill="#fff" fill-opacity="0.18" filter="url(#b08)"/>
<ellipse cx="427.80" cy="461.00" rx="2.0" ry="3" fill="#fff" fill-opacity="0.32" filter="url(#b08)"/>
<ellipse cx="428.10" cy="470.00" rx="2.0" ry="1.5" fill="#fff" fill-opacity="0.6" filter="url(#b05)"/>
<ellipse cx="420.80" cy="470.00" rx="1.2" ry="1.2" fill="#fff" fill-opacity="0.6" filter="url(#b05)"/>
<ellipse cx="420.80" cy="465.20" rx="1.2" ry="1.2" fill="#fff" fill-opacity="0.4" filter="url(#b05)"/>
<ellipse cx="420.00" cy="469.60" rx="1.2" ry="1.2" fill="#fff" fill-opacity="0.37964364319083294" filter="url(#b05)"/>
<ellipse cx="423.00" cy="467.20" rx="1.1" ry="1.1" fill="#fff" fill-opacity="0.30371491455266636" filter="url(#b05)"/>
<ellipse cx="415.80" cy="467.20" rx="1.6" ry="0.9" fill="#fff" fill-opacity="0.11389309295724988" filter="url(#b08)"/>
<ellipse cx="434.30" cy="467.20" rx="1.8" ry="0.9" fill="#fff" fill-opacity="0.11389309295724988" filter="url(#b08)"/>
<ellipse cx="420.00" cy="464.80" rx="1.2" ry="1.2" fill="#fff" fill-opacity="0.3209411524837065" filter="url(#b05)"/>
<ellipse cx="423.00" cy="462.40" rx="1.1" ry="1.1" fill="#fff" fill-opacity="0.25675292198696525" filter="url(#b05)"/>
<ellipse cx="415.80" cy="462.40" rx="1.6" ry="0.9" fill="#fff" fill-opacity="0.09628234574511195" filter="url(#b08)"/>
<ellipse cx="434.30" cy="462.40" rx="1.8" ry="0.9" fill="#fff" fill-opacity="0.09628234574511195" filter="url(#b08)"/>
<ellipse cx="420.00" cy="460.00" rx="1.2" ry="1.2" fill="#fff" fill-opacity="0.2646244825578378" filter="url(#b05)"/>
<ellipse cx="423.00" cy="457.60" rx="1.1" ry="1.1" fill="#fff" fill-opacity="0.21169958604627026" filter="url(#b05)"/>
<ellipse cx="415.80" cy="457.60" rx="1.6" ry="0.9" fill="#fff" fill-opacity="0.07938734476735135" filter="url(#b08)"/>
<ellipse cx="434.30" cy="457.60" rx="1.8" ry="0.9" fill="#fff" fill-opacity="0.07938734476735135" filter="url(#b08)"/>
<ellipse cx="420.00" cy="455.20" rx="1.2" ry="1.2" fill="#fff" fill-opacity="0.21095658853876328" filter="url(#b05)"/>
<ellipse cx="423.00" cy="452.80" rx="1.1" ry="1.1" fill="#fff" fill-opacity="0.16876527083101064" filter="url(#b05)"/>
<ellipse cx="415.80" cy="452.80" rx="1.6" ry="0.9" fill="#fff" fill-opacity="0.06328697656162899" filter="url(#b08)"/>
<ellipse cx="434.30" cy="452.80" rx="1.8" ry="0.9" fill="#fff" fill-opacity="0.06328697656162899" filter="url(#b08)"/>
<ellipse cx="420.00" cy="450.40" rx="1.2" ry="1.2" fill="#fff" fill-opacity="0.16028453009782576" filter="url(#b05)"/>
<ellipse cx="423.00" cy="448.00" rx="1.1" ry="1.1" fill="#fff" fill-opacity="0.1282276240782606" filter="url(#b05)"/>
<ellipse cx="415.80" cy="448.00" rx="1.6" ry="0.9" fill="#fff" fill-opacity="0.04808535902934773" filter="url(#b08)"/>
<ellipse cx="434.30" cy="448.00" rx="1.8" ry="0.9" fill="#fff" fill-opacity="0.04808535902934773" filter="url(#b08)"/>
<ellipse cx="420.00" cy="445.60" rx="1.2" ry="1.2" fill="#fff" fill-opacity="0.11309264685291755" filter="url(#b05)"/>
<ellipse cx="423.00" cy="443.20" rx="1.1" ry="1.1" fill="#fff" fill-opacity="0.09047411748233404" filter="url(#b05)"/>
<ellipse cx="415.80" cy="443.20" rx="1.6" ry="0.9" fill="#fff" fill-opacity="0.03392779405587526" filter="url(#b08)"/>
<ellipse cx="434.30" cy="443.20" rx="1.8" ry="0.9" fill="#fff" fill-opacity="0.03392779405587526" filter="url(#b08)"/>
<ellipse cx="420.00" cy="440.80" rx="1.2" ry="1.2" fill="#fff" fill-opacity="0.07011699137168147" filter="url(#b05)"/>
<ellipse cx="423.00" cy="438.40" rx="1.1" ry="1.1" fill="#fff" fill-opacity="0.05609359309734518" filter="url(#b05)"/>
<ellipse cx="415.80" cy="438.40" rx="1.6" ry="0.9" fill="#fff" fill-opacity="0.02103509741150444" filter="url(#b08)"/>
<ellipse cx="434.30" cy="438.40" rx="1.8" ry="0.9" fill="#fff" fill-opacity="0.02103509741150444" filter="url(#b08)"/>
<ellipse cx="420.00" cy="436.00" rx="1.2" ry="1.2" fill="#fff" fill-opacity="0.03265645332858891" filter="url(#b05)"/>
<ellipse cx="423.00" cy="433.60" rx="1.1" ry="1.1" fill="#fff" fill-opacity="0.026125162662871126" filter="url(#b05)"/>
<ellipse cx="415.80" cy="433.60" rx="1.6" ry="0.9" fill="#fff" fill-opacity="0.009796935998576672" filter="url(#b08)"/>
<ellipse cx="434.30" cy="433.60" rx="1.8" ry="0.9" fill="#fff" fill-opacity="0.009796935998576672" filter="url(#b08)"/>
<ellipse cx="420.00" cy="431.20" rx="1.2" ry="1.2" fill="#fff" fill-opacity="0.004030027508014745" filter="url(#b05)"/>
<ellipse cx="423.00" cy="428.80" rx="1.1" ry="1.1" fill="#fff" fill-opacity="0.0032240220064117964" filter="url(#b05)"/>
<ellipse cx="415.80" cy="428.80" rx="1.6" ry="0.9" fill="#fff" fill-opacity="0.0012090082524044234" filter="url(#b08)"/>
<ellipse cx="434.30" cy="428.80" rx="1.8" ry="0.9" fill="#fff" fill-opacity="0.0012090082524044234" filter="url(#b08)"/>
<rect x="417.95" y="330" width="0.9" height="150" fill="#000" fill-opacity="0.5"/>
</g><rect x="418.00" y="330" width="0.8" height="150" fill="#000060" opacity="0.28"/></g>
<rect x="399.79999999999995" y="333.2" width="50.60" height="1.7" fill="#9e9ea3"/>
<rect x="399.79999999999995" y="472.8" width="50.80" height="2.0" fill="#a2a2a2"/>
<path d="M401.30 474.60v3.4M404.11 474.60v2.6M406.92 474.60v3.4M409.74 474.60v2.6M412.55 474.60v3.4M415.36 474.60v2.6M418.17 474.60v3.4M420.98 474.60v2.6M423.79 474.60v3.4M426.61 474.60v2.6M429.42 474.60v3.4M432.23 474.60v2.6M435.04 474.60v3.4M437.85 474.60v2.6M440.66 474.60v3.4M443.48 474.60v2.6M446.29 474.60v3.4M449.10 474.60v2.6" stroke="#6e6e6e" stroke-width="0.8" fill="none"/>
<path d="M400.40 472.36h-1.7M400.40 468.63h-1.7M400.40 464.90h-4.0M400.40 461.17h-1.7M400.40 457.44h-1.7M400.40 453.71h-1.7M400.40 449.98h-1.7M400.40 446.25h-3.0M400.40 442.52h-1.7M400.40 438.79h-1.7M400.40 435.06h-1.7M400.40 431.33h-1.7M400.40 427.60h-4.0M400.40 423.87h-1.7M400.40 420.14h-1.7M400.40 416.41h-1.7M400.40 412.68h-1.7M400.40 408.95h-3.0M400.40 405.22h-1.7M400.40 401.49h-1.7M400.40 397.76h-1.7M400.40 394.03h-1.7M400.40 390.30h-4.0M400.40 386.57h-1.7M400.40 382.84h-1.7M400.40 379.11h-1.7M400.40 375.38h-1.7M400.40 371.65h-3.0M400.40 367.92h-1.7M400.40 364.19h-1.7M400.40 360.46h-1.7M400.40 356.73h-1.7M400.40 353.00h-4.0M400.40 349.27h-1.7M400.40 345.54h-1.7M400.40 341.81h-1.7M400.40 338.08h-1.7" stroke="#5a5a5a" stroke-width="0.75" fill="none"/>
<text x="396.2" y="354.9" font-size="8.3" font-family="Liberation Sans, Arial, sans-serif" fill="#111" text-anchor="end">20</text>
<text x="396.2" y="392.5" font-size="8.3" font-family="Liberation Sans, Arial, sans-serif" fill="#111" text-anchor="end">10</text>
<text x="396.2" y="430.2" font-size="8.3" font-family="Liberation Sans, Arial, sans-serif" fill="#111" text-anchor="end">0</text>
<text x="396.2" y="465.7" font-size="8.3" font-family="Liberation Sans, Arial, sans-serif" fill="#111" text-anchor="end">10</text>
<text x="396.6" y="487.0" font-size="8.3" font-family="Liberation Sans, Arial, sans-serif" fill="#111" textLength="13.3" lengthAdjust="spacingAndGlyphs">-0.5</text>
<text x="419.5" y="487.0" font-size="8.3" font-family="Liberation Sans, Arial, sans-serif" fill="#111" text-anchor="middle">0</text>
<text x="428" y="487.0" font-size="8.3" font-family="Liberation Sans, Arial, sans-serif" fill="#111" textLength="13.3" lengthAdjust="spacingAndGlyphs">-0.5</text>
<clipPath id="cb6"><rect x="469.0" y="334.0" width="48.70" height="138.50"/></clipPath>
<g clip-path="url(#cb6)"><g filter="url(#jet)">
<rect x="463.0" y="328.0" width="60.70" height="150.50" fill="#000"/>
<defs><linearGradient id="g27u" x1="0" y1="0" x2="0" y2="1"><stop offset="0.000" stop-color="#fff" stop-opacity="0.072"/><stop offset="0.505" stop-color="#fff" stop-opacity="0.12"/><stop offset="1.000" stop-color="#fff" stop-opacity="0.24"/></linearGradient>
</defs><path d="M493.85 331.00 L499.35 331.00 L499.85 422.00 L493.35 422.00 Z" fill="url(#g27u)" filter="url(#b15)"/>
<ellipse cx="496.60" cy="402.00" rx="3.9" ry="3.6" fill="#fff" fill-opacity="0.04" filter="url(#b15)"/>
<ellipse cx="486.20" cy="414.50" rx="1.4" ry="4.2" fill="#fff" fill-opacity="0.2" filter="url(#b08)"/>
<defs><linearGradient id="g27h" x1="0" y1="0" x2="0" y2="1"><stop offset="0.000" stop-color="#fff" stop-opacity="0.0"/><stop offset="0.117" stop-color="#fff" stop-opacity="0.16"/><stop offset="1.000" stop-color="#fff" stop-opacity="0.2"/></linearGradient>
</defs><path d="M492.80 417.00 L500.40 417.00 L502.65 477.00 L490.55 477.00 Z" fill="url(#g27h)" filter="url(#b15)"/>
<defs><linearGradient id="g27c" x1="0" y1="0" x2="0" y2="1"><stop offset="0.000" stop-color="#fff" stop-opacity="0.0"/><stop offset="0.080" stop-color="#fff" stop-opacity="0.24"/><stop offset="0.400" stop-color="#fff" stop-opacity="0.32"/><stop offset="1.000" stop-color="#fff" stop-opacity="0.32"/></linearGradient>
</defs><polyline points="496.84,419.00 497.33,420.00 497.34,421.00 496.86,422.00 496.21,423.00 495.82,424.00 495.95,425.00 496.51,426.00 497.13,427.00 497.40,428.00 497.14,429.00 496.53,430.00 495.96,431.00 495.82,432.00 496.19,433.00 496.84,434.00 497.33,435.00 497.34,436.00 496.86,437.00 496.21,438.00 495.82,439.00 495.95,440.00 496.51,441.00 497.13,442.00 497.40,443.00 497.14,444.00 496.53,445.00 495.96,446.00 495.82,447.00 496.19,448.00 496.84,449.00 497.33,450.00 497.34,451.00 496.86,452.00 496.21,453.00 495.82,454.00 495.95,455.00 496.51,456.00 497.13,457.00 497.40,458.00 497.14,459.00 496.53,460.00 495.96,461.00 495.82,462.00 496.19,463.00 496.84,464.00 497.33,465.00 497.34,466.00 496.86,467.00 496.21,468.00 495.82,469.00 495.95,470.00 496.51,471.00 497.13,472.00 497.40,473.00 497.14,474.00 496.53,475.00 495.96,476.00 495.82,477.00" fill="none" stroke="url(#g27c)" stroke-width="5.6" stroke-linecap="round" filter="url(#b1)"/>
<ellipse cx="496.60" cy="452.00" rx="1.9" ry="3" fill="#fff" fill-opacity="0.2" filter="url(#b08)"/>
<ellipse cx="496.60" cy="460.00" rx="2.0" ry="3" fill="#fff" fill-opacity="0.28" filter="url(#b08)"/>
<ellipse cx="496.90" cy="455.50" rx="2.0" ry="1.5" fill="#fff" fill-opacity="0.4" filter="url(#b05)"/>
<ellipse cx="496.90" cy="466.50" rx="2.2" ry="1.7" fill="#fff" fill-opacity="0.7" filter="url(#b05)"/>
<ellipse cx="489.60" cy="467.00" rx="1.2" ry="1.2" fill="#fff" fill-opacity="0.55" filter="url(#b05)"/>
<ellipse cx="489.60" cy="462.20" rx="1.2" ry="1.2" fill="#fff" fill-opacity="0.4" filter="url(#b05)"/>
<ellipse cx="489.60" cy="468.80" rx="1.2" ry="1.2" fill="#fff" fill-opacity="0.4079268073265845" filter="url(#b05)"/>
<ellipse cx="492.60" cy="466.40" rx="1.1" ry="1.1" fill="#fff" fill-opacity="0.3263414458612676" filter="url(#b05)"/>
<ellipse cx="485.40" cy="466.40" rx="1.6" ry="0.9" fill="#fff" fill-opacity="0.12237804219797534" filter="url(#b08)"/>
<ellipse cx="503.10" cy="466.40" rx="1.8" ry="0.9" fill="#fff" fill-opacity="0.12237804219797534" filter="url(#b08)"/>
<ellipse cx="489.60" cy="464.00" rx="1.2" ry="1.2" fill="#fff" fill-opacity="0.3466708180928939" filter="url(#b05)"/>
<ellipse cx="492.60" cy="461.60" rx="1.1" ry="1.1" fill="#fff" fill-opacity="0.27733665447431516" filter="url(#b05)"/>
<ellipse cx="485.40" cy="461.60" rx="1.6" ry="0.9" fill="#fff" fill-opacity="0.10400124542786816" filter="url(#b08)"/>
<ellipse cx="503.10" cy="461.60" rx="1.8" ry="0.9" fill="#fff" fill-opacity="0.10400124542786816" filter="url(#b08)"/>
<ellipse cx="489.60" cy="459.20" rx="1.2" ry="1.2" fill="#fff" fill-opacity="0.287822675929281" filter="url(#b05)"/>
<ellipse cx="492.60" cy="456.80" rx="1.1" ry="1.1" fill="#fff" fill-opacity="0.23025814074342482" filter="url(#b05)"/>
<ellipse cx="485.40" cy="456.80" rx="1.6" ry="0.9" fill="#fff" fill-opacity="0.0863468027787843" filter="url(#b08)"/>
<ellipse cx="503.10" cy="456.80" rx="1.8" ry="0.9" fill="#fff" fill-opacity="0.0863468027787843" filter="url(#b08)"/>
<ellipse cx="489.60" cy="454.40" rx="1.2" ry="1.2" fill="#fff" fill-opacity="0.23163764411990534" filter="url(#b05)"/>
<ellipse cx="492.60" cy="452.00" rx="1.1" ry="1.1" fill="#fff" fill-opacity="0.18531011529592428" filter="url(#b05)"/>
<ellipse cx="485.40" cy="452.00" rx="1.6" ry="0.9" fill="#fff" fill-opacity="0.0694912932359716" filter="url(#b08)"/>
<ellipse cx="503.10" cy="452.00" rx="1.8" ry="0.9" fill="#fff" fill-opacity="0.0694912932359716" filter="url(#b08)"/>
<ellipse cx="489.60" cy="449.60" rx="1.2" ry="1.2" fill="#fff" fill-opacity="0.17844891464035145" filter="url(#b05)"/>
<ellipse cx="492.60" cy="447.20" rx="1.1" ry="1.1" fill="#fff" fill-opacity="0.14275913171228116" filter="url(#b05)"/>
<ellipse cx="485.40" cy="447.20" rx="1.6" ry="0.9" fill="#fff" fill-opacity="0.053534674392105436" filter="url(#b08)"/>
<ellipse cx="503.10" cy="447.20" rx="1.8" ry="0.9" fill="#fff" fill-opacity="0.053534674392105436" filter="url(#b08)"/>
<ellipse cx="489.60" cy="444.80" rx="1.2" ry="1.2" fill="#fff" fill-opacity="0.1287140929582968" filter="url(#b05)"/>
<ellipse cx="492.60" cy="442.40" rx="1.1" ry="1.1" fill="#fff" fill-opacity="0.10297127436663744" filter="url(#b05)"/>
<ellipse cx="485.40" cy="442.40" rx="1.6" ry="0.9" fill="#fff" fill-opacity="0.03861422788748904" filter="url(#b08)"/>
<ellipse cx="503.10" cy="442.40" rx="1.8" ry="0.9" fill="#fff" fill-opacity="0.03861422788748904" filter="url(#b08)"/>
<ellipse cx="489.60" cy="440.00" rx="1.2" ry="1.2" fill="#fff" fill-opacity="0.08311121938474367" filter="url(#b05)"/>
<ellipse cx="492.60" cy="437.60" rx="1.1" ry="1.1" fill="#fff" fill-opacity="0.06648897550779494" filter="url(#b05)"/>
<ellipse cx="485.40" cy="437.60" rx="1.6" ry="0.9" fill="#fff" fill-opacity="0.0249333658154231" filter="url(#b08)"/>
<ellipse cx="503.10" cy="437.60" rx="1.8" ry="0.9" fill="#fff" fill-opacity="0.0249333658154231" filter="url(#b08)"/>
<ellipse cx="489.60" cy="435.20" rx="1.2" ry="1.2" fill="#fff" fill-opacity="0.04278152679603232" filter="url(#b05)"/>
<ellipse cx="492.60" cy="432.80" rx="1.1" ry="1.1" fill="#fff" fill-opacity="0.03422522143682585" filter="url(#b05)"/>
<ellipse cx="485.40" cy="432.80" rx="1.6" ry="0.9" fill="#fff" fill-opacity="0.012834458038809695" filter="url(#b08)"/>
<ellipse cx="503.10" cy="432.80" rx="1.8" ry="0.9" fill="#fff" fill-opacity="0.012834458038809695" filter="url(#b08)"/>
<ellipse cx="489.60" cy="430.40" rx="1.2" ry="1.2" fill="#fff" fill-opacity="0.010256487346467337" filter="url(#b05)"/>
<ellipse cx="492.60" cy="428.00" rx="1.1" ry="1.1" fill="#fff" fill-opacity="0.00820518987717387" filter="url(#b05)"/>
<ellipse cx="485.40" cy="428.00" rx="1.6" ry="0.9" fill="#fff" fill-opacity="0.003076946203940201" filter="url(#b08)"/>
<ellipse cx="503.10" cy="428.00" rx="1.8" ry="0.9" fill="#fff" fill-opacity="0.003076946203940201" filter="url(#b08)"/>
<rect x="487.55" y="330" width="0.9" height="150" fill="#000" fill-opacity="0.5"/>
</g><rect x="487.60" y="330" width="0.8" height="150" fill="#000060" opacity="0.28"/></g>
<rect x="468.4" y="332.5" width="49.70" height="1.7" fill="#9e9ea3"/>
<rect x="468.4" y="472.5" width="49.90" height="2.0" fill="#a2a2a2"/>
<path d="M469.90 474.30v3.4M472.66 474.30v2.6M475.42 474.30v3.4M478.18 474.30v2.6M480.94 474.30v3.4M483.69 474.30v2.6M486.45 474.30v3.4M489.21 474.30v2.6M491.97 474.30v3.4M494.73 474.30v2.6M497.49 474.30v3.4M500.25 474.30v2.6M503.01 474.30v3.4M505.76 474.30v2.6M508.52 474.30v3.4M511.28 474.30v2.6M514.04 474.30v3.4M516.80 474.30v2.6" stroke="#6e6e6e" stroke-width="0.8" fill="none"/>
<path d="M469.00 469.33h-1.7M469.00 465.60h-4.0M469.00 461.87h-1.7M469.00 458.14h-1.7M469.00 454.41h-1.7M469.00 450.68h-1.7M469.00 446.95h-3.0M469.00 443.22h-1.7M469.00 439.49h-1.7M469.00 435.76h-1.7M469.00 432.03h-1.7M469.00 428.30h-4.0M469.00 424.57h-1.7M469.00 420.84h-1.7M469.00 417.11h-1.7M469.00 413.38h-1.7M469.00 409.65h-3.0M469.00 405.92h-1.7M469.00 402.19h-1.7M469.00 398.46h-1.7M469.00 394.73h-1.7M469.00 391.00h-4.0M469.00 387.27h-1.7M469.00 383.54h-1.7M469.00 379.81h-1.7M469.00 376.08h-1.7M469.00 372.35h-3.0M469.00 368.62h-1.7M469.00 364.89h-1.7M469.00 361.16h-1.7M469.00 357.43h-1.7M469.00 353.70h-4.0M469.00 349.97h-1.7M469.00 346.24h-1.7M469.00 342.51h-1.7M469.00 338.78h-1.7" stroke="#5a5a5a" stroke-width="0.75" fill="none"/>
<text x="463.5" y="356.4" font-size="8.3" font-family="Liberation Sans, Arial, sans-serif" fill="#111" text-anchor="end">20</text>
<text x="463.5" y="393.9" font-size="8.3" font-family="Liberation Sans, Arial, sans-serif" fill="#111" text-anchor="end">10</text>
<text x="463.5" y="430.9" font-size="8.3" font-family="Liberation Sans, Arial, sans-serif" fill="#111" text-anchor="end">0</text>
<text x="463.5" y="465.9" font-size="8.3" font-family="Liberation Sans, Arial, sans-serif" fill="#111" text-anchor="end">10</text>
<text x="463.5" y="487.0" font-size="8.3" font-family="Liberation Sans, Arial, sans-serif" fill="#111" textLength="13.3" lengthAdjust="spacingAndGlyphs">-0.5</text>
<text x="486.4" y="487.0" font-size="8.3" font-family="Liberation Sans, Arial, sans-serif" fill="#111" text-anchor="middle">0</text>
<text x="494.9" y="487.0" font-size="8.3" font-family="Liberation Sans, Arial, sans-serif" fill="#111" textLength="13.3" lengthAdjust="spacingAndGlyphs">-0.5</text>
<rect x="536.8" y="167.2" width="6.4" height="133.8" fill="url(#cbar)"/>
<path d="M530.4 167.2H533.4V301H530.4M533.4 183.92h-1.8M533.4 200.65h-1.8M533.4 217.38h-1.8M533.4 234.10h-2.6M533.4 250.82h-1.8M533.4 267.55h-1.8M533.4 284.27h-1.8" stroke="#777" stroke-width="0.7" fill="none"/>
<text x="530.3" y="164.4" font-size="7.6" font-family="Liberation Sans, Arial, sans-serif" fill="#3a3a3a">0.8</text>
<text x="530.3" y="309.5" font-size="7.6" font-family="Liberation Sans, Arial, sans-serif" fill="#3a3a3a">0.0</text>
<rect x="537.8" y="346.2" width="6.4" height="133.4" fill="url(#cbar)"/>
<path d="M531.7 346.2H534.7V479.6H531.7M534.7 362.88h-1.8M534.7 379.55h-1.8M534.7 396.23h-1.8M534.7 412.90h-2.6M534.7 429.58h-1.8M534.7 446.25h-1.8M534.7 462.93h-1.8" stroke="#777" stroke-width="0.7" fill="none"/>
<text x="531.2" y="343.6" font-size="7.6" font-family="Liberation Sans, Arial, sans-serif" fill="#3a3a3a">0.6</text>
</svg>
</body></html>
